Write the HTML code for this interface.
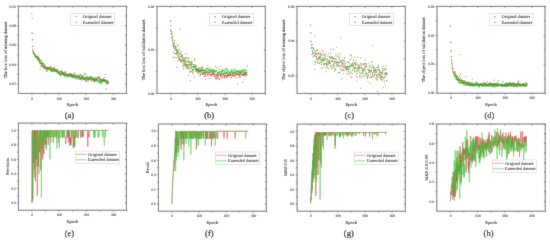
<!DOCTYPE html>
<html><head><meta charset="utf-8"><style>
html,body{margin:0;padding:0;background:#fff;}
svg{display:block;}
text{font-family:"Liberation Serif", "Times New Roman", serif;fill:#222;text-rendering:geometricPrecision;}
.tk{font-size:3.6px;fill:#333;stroke:#333;stroke-width:0.12px;}
.al{font-size:4.5px;fill:#1a1a1a;stroke:#1a1a1a;stroke-width:0.08px;}
.sl{font-size:8.6px;fill:#000;stroke:#000;stroke-width:0.15px;}
.lg{font-size:4.5px;fill:#1a1a1a;stroke:#1a1a1a;stroke-width:0.06px;}
</style></head><body>
<svg width="550" height="241" viewBox="0 0 550 241">
<defs><filter id="soft" filterUnits="userSpaceOnUse" x="0" y="0" width="550" height="241"><feConvolveMatrix order="3" kernelMatrix="0.01 0.08 0.01 0.08 0.64 0.08 0.01 0.08 0.01" edgeMode="duplicate"/></filter></defs>
<g filter="url(#soft)">
<rect width="550" height="241" fill="#fff"/>
<clipPath id="cpa"><rect x="18.40" y="6.30" width="108.00" height="87.10"/></clipPath>
<path d="M31.40 33.03h1.0M31.67 40.13h1.0M31.94 46.32h1.0M32.21 49.32h1.0M32.49 51.56h1.0M32.76 52.55h1.0M33.03 52.53h1.0M33.30 53.40h1.0M33.57 53.76h1.0M33.84 54.24h1.0M34.12 54.58h1.0M34.39 55.62h1.0M34.66 54.76h1.0M34.93 55.93h1.0M35.20 56.07h1.0M35.47 57.65h1.0M35.74 57.34h1.0M36.02 57.19h1.0M36.29 56.78h1.0M36.56 57.43h1.0M36.83 57.87h1.0M37.10 57.30h1.0M37.37 59.75h1.0M37.64 59.76h1.0M37.92 56.07h1.0M38.19 57.52h1.0M38.46 60.11h1.0M38.73 60.67h1.0M39.00 62.28h1.0M39.27 63.06h1.0M39.55 69.20h1.0M39.82 60.64h1.0M40.09 63.45h1.0M40.36 66.22h1.0M40.63 64.83h1.0M40.90 66.08h1.0M41.17 63.97h1.0M41.45 60.40h1.0M41.72 65.61h1.0M41.99 66.25h1.0M42.26 63.10h1.0M42.53 65.12h1.0M42.80 67.39h1.0M43.07 66.77h1.0M43.35 67.86h1.0M43.62 67.93h1.0M43.89 67.66h1.0M44.16 66.90h1.0M44.43 68.05h1.0M44.70 68.43h1.0M44.98 67.96h1.0M45.25 66.94h1.0M45.52 68.86h1.0M45.79 67.69h1.0M46.06 69.33h1.0M46.33 67.31h1.0M46.60 69.57h1.0M46.88 68.68h1.0M47.15 67.49h1.0M47.42 68.65h1.0M47.69 69.13h1.0M47.96 69.31h1.0M48.23 67.82h1.0M48.50 67.53h1.0M48.78 68.76h1.0M49.05 67.85h1.0M49.32 68.49h1.0M49.59 69.04h1.0M49.86 66.50h1.0M50.13 68.67h1.0M50.41 69.86h1.0M50.68 67.92h1.0M50.95 68.10h1.0M51.22 71.29h1.0M51.49 69.76h1.0M51.76 70.60h1.0M52.03 69.31h1.0M52.31 68.04h1.0M52.58 69.45h1.0M52.85 69.01h1.0M53.12 70.28h1.0M53.39 69.66h1.0M53.66 67.74h1.0M53.93 68.29h1.0M54.21 70.60h1.0M54.48 70.40h1.0M54.75 68.99h1.0M55.02 69.82h1.0M55.29 70.56h1.0M55.56 70.91h1.0M55.84 71.69h1.0M56.11 71.35h1.0M56.38 71.28h1.0M56.65 71.38h1.0M56.92 73.04h1.0M57.19 69.73h1.0M57.46 72.28h1.0M57.74 72.75h1.0M58.01 71.43h1.0M58.28 73.53h1.0M58.55 72.60h1.0M58.82 74.25h1.0M59.09 73.11h1.0M59.36 73.82h1.0M59.64 74.25h1.0M59.91 73.18h1.0M60.18 71.65h1.0M60.45 70.78h1.0M60.72 74.17h1.0M60.99 72.12h1.0M61.27 71.54h1.0M61.54 72.60h1.0M61.81 72.52h1.0M62.08 74.00h1.0M62.35 73.46h1.0M62.62 73.73h1.0M62.89 73.17h1.0M63.17 74.58h1.0M63.44 73.06h1.0M63.71 74.92h1.0M63.98 75.88h1.0M64.25 72.69h1.0M64.52 71.78h1.0M64.79 75.19h1.0M65.07 77.38h1.0M65.34 72.14h1.0M65.61 73.61h1.0M65.88 75.69h1.0M66.15 74.28h1.0M66.42 74.70h1.0M66.69 74.88h1.0M66.97 76.66h1.0M67.24 74.82h1.0M67.51 75.56h1.0M67.78 75.12h1.0M68.05 74.45h1.0M68.32 75.00h1.0M68.60 74.29h1.0M68.87 75.21h1.0M69.14 73.82h1.0M69.41 73.62h1.0M69.68 76.10h1.0M69.95 74.37h1.0M70.22 74.31h1.0M70.50 74.97h1.0M70.77 74.16h1.0M71.04 74.66h1.0M71.31 75.72h1.0M71.58 75.96h1.0M71.85 74.75h1.0M72.12 77.05h1.0M72.40 75.60h1.0M72.67 75.01h1.0M72.94 74.97h1.0M73.21 75.23h1.0M73.48 77.07h1.0M73.75 73.92h1.0M74.03 75.29h1.0M74.30 72.97h1.0M74.57 75.43h1.0M74.84 76.72h1.0M75.11 75.94h1.0M75.38 75.95h1.0M75.65 77.22h1.0M75.93 77.97h1.0M76.20 78.09h1.0M76.47 79.53h1.0M76.74 77.70h1.0M77.01 76.86h1.0M77.28 77.37h1.0M77.56 77.38h1.0M77.83 77.81h1.0M78.10 77.84h1.0M78.37 78.27h1.0M78.64 76.54h1.0M78.91 79.30h1.0M79.18 77.90h1.0M79.46 77.23h1.0M79.73 78.95h1.0M80.00 79.39h1.0M80.27 78.24h1.0M80.54 77.64h1.0M80.81 76.29h1.0M81.08 80.15h1.0M81.36 78.07h1.0M81.63 76.05h1.0M81.90 76.58h1.0M82.17 77.70h1.0M82.44 76.20h1.0M82.71 78.16h1.0M82.98 77.60h1.0M83.26 79.38h1.0M83.53 79.07h1.0M83.80 75.17h1.0M84.07 77.97h1.0M84.34 73.75h1.0M84.61 79.19h1.0M84.89 78.42h1.0M85.16 79.97h1.0M85.43 77.80h1.0M85.70 81.14h1.0M85.97 81.59h1.0M86.24 78.54h1.0M86.51 80.06h1.0M86.79 78.93h1.0M87.06 79.47h1.0M87.33 78.01h1.0M87.60 81.07h1.0M87.87 78.00h1.0M88.14 78.59h1.0M88.41 79.35h1.0M88.69 78.11h1.0M88.96 78.44h1.0M89.23 77.09h1.0M89.50 78.22h1.0M89.77 76.93h1.0M90.04 77.43h1.0M90.32 77.44h1.0M90.59 77.17h1.0M90.86 77.60h1.0M91.13 77.45h1.0M91.40 78.87h1.0M91.67 78.20h1.0M91.94 78.88h1.0M92.22 78.83h1.0M92.49 79.43h1.0M92.76 79.05h1.0M93.03 81.13h1.0M93.30 79.54h1.0M93.57 79.94h1.0M93.84 80.98h1.0M94.12 80.89h1.0M94.39 79.93h1.0M94.66 78.16h1.0M94.93 80.60h1.0M95.20 80.44h1.0M95.47 78.79h1.0M95.75 81.04h1.0M96.02 79.53h1.0M96.29 79.02h1.0M96.56 80.10h1.0M96.83 79.56h1.0M97.10 79.62h1.0M97.37 77.39h1.0M97.65 80.47h1.0M97.92 77.68h1.0M98.19 76.54h1.0M98.46 78.73h1.0M98.73 77.91h1.0M99.00 78.90h1.0M99.28 78.08h1.0M99.55 79.25h1.0M99.82 79.87h1.0M100.09 79.13h1.0M100.36 80.80h1.0M100.63 79.83h1.0M100.90 79.60h1.0M101.18 80.72h1.0M101.45 81.26h1.0M101.72 80.71h1.0M101.99 80.18h1.0M102.26 81.77h1.0M102.53 79.43h1.0M102.80 80.21h1.0M103.08 81.28h1.0M103.35 79.76h1.0M103.62 80.95h1.0M103.89 80.62h1.0M104.16 81.40h1.0M104.43 79.53h1.0M104.71 79.90h1.0M104.98 81.53h1.0M105.25 74.73h1.0M105.52 88.97h1.0M105.79 80.73h1.0M106.06 80.94h1.0M106.33 82.74h1.0M106.61 82.03h1.0M106.88 80.45h1.0M107.15 82.96h1.0M107.42 83.23h1.0M107.69 81.91h1.0M107.96 82.06h1.0" stroke="#d83840" stroke-width="1.0" fill="none" clip-path="url(#cpa)"/>
<path d="M31.40 13.72h1.0M31.67 18.67h1.0M31.94 33.29h1.0M32.21 39.45h1.0M32.49 46.35h1.0M32.76 50.75h1.0M33.03 51.66h1.0M33.30 53.40h1.0M33.57 53.80h1.0M33.84 53.91h1.0M34.12 55.86h1.0M34.39 55.19h1.0M34.66 55.50h1.0M34.93 55.34h1.0M35.20 56.57h1.0M35.47 56.27h1.0M35.74 57.01h1.0M36.02 56.24h1.0M36.29 57.14h1.0M36.56 56.59h1.0M36.83 58.51h1.0M37.10 58.42h1.0M37.37 58.99h1.0M37.64 59.47h1.0M37.92 58.64h1.0M38.19 60.48h1.0M38.46 61.79h1.0M38.73 58.82h1.0M39.00 58.97h1.0M39.27 59.40h1.0M39.55 61.69h1.0M39.82 61.45h1.0M40.09 62.68h1.0M40.36 62.82h1.0M40.63 62.83h1.0M40.90 63.55h1.0M41.17 63.06h1.0M41.45 64.16h1.0M41.72 62.64h1.0M41.99 63.37h1.0M42.26 64.05h1.0M42.53 65.51h1.0M42.80 63.52h1.0M43.07 63.51h1.0M43.35 64.31h1.0M43.62 65.90h1.0M43.89 65.28h1.0M44.16 67.09h1.0M44.43 64.90h1.0M44.70 67.99h1.0M44.98 68.44h1.0M45.25 66.86h1.0M45.52 68.61h1.0M45.79 71.37h1.0M46.06 69.06h1.0M46.33 69.89h1.0M46.60 71.01h1.0M46.88 69.10h1.0M47.15 68.50h1.0M47.42 67.97h1.0M47.69 69.11h1.0M47.96 68.33h1.0M48.23 68.31h1.0M48.50 68.39h1.0M48.78 69.12h1.0M49.05 67.83h1.0M49.32 67.67h1.0M49.59 67.17h1.0M49.86 70.52h1.0M50.13 69.79h1.0M50.41 71.15h1.0M50.68 69.96h1.0M50.95 69.41h1.0M51.22 70.49h1.0M51.49 70.07h1.0M51.76 69.14h1.0M52.03 69.52h1.0M52.31 71.84h1.0M52.58 70.74h1.0M52.85 70.89h1.0M53.12 70.41h1.0M53.39 70.14h1.0M53.66 71.49h1.0M53.93 70.64h1.0M54.21 70.04h1.0M54.48 70.49h1.0M54.75 69.76h1.0M55.02 70.63h1.0M55.29 71.42h1.0M55.56 69.81h1.0M55.84 71.77h1.0M56.11 70.10h1.0M56.38 70.94h1.0M56.65 69.23h1.0M56.92 70.98h1.0M57.19 71.46h1.0M57.46 71.21h1.0M57.74 71.23h1.0M58.01 71.57h1.0M58.28 71.83h1.0M58.55 71.60h1.0M58.82 73.08h1.0M59.09 73.94h1.0M59.36 74.57h1.0M59.64 74.45h1.0M59.91 75.95h1.0M60.18 74.04h1.0M60.45 73.23h1.0M60.72 75.02h1.0M60.99 72.46h1.0M61.27 74.08h1.0M61.54 72.48h1.0M61.81 73.66h1.0M62.08 71.88h1.0M62.35 74.47h1.0M62.62 73.78h1.0M62.89 73.24h1.0M63.17 75.52h1.0M63.44 74.79h1.0M63.71 74.27h1.0M63.98 73.58h1.0M64.25 74.20h1.0M64.52 73.97h1.0M64.79 75.96h1.0M65.07 75.32h1.0M65.34 74.35h1.0M65.61 74.72h1.0M65.88 74.95h1.0M66.15 74.40h1.0M66.42 75.10h1.0M66.69 75.54h1.0M66.97 76.17h1.0M67.24 76.65h1.0M67.51 74.83h1.0M67.78 75.93h1.0M68.05 75.09h1.0M68.32 77.18h1.0M68.60 75.40h1.0M68.87 75.85h1.0M69.14 74.66h1.0M69.41 74.78h1.0M69.68 75.89h1.0M69.95 75.19h1.0M70.22 75.86h1.0M70.50 74.36h1.0M70.77 76.31h1.0M71.04 75.15h1.0M71.31 77.45h1.0M71.58 75.90h1.0M71.85 77.17h1.0M72.12 75.25h1.0M72.40 77.43h1.0M72.67 75.95h1.0M72.94 75.82h1.0M73.21 76.97h1.0M73.48 76.84h1.0M73.75 77.49h1.0M74.03 78.06h1.0M74.30 78.13h1.0M74.57 77.55h1.0M74.84 76.41h1.0M75.11 76.67h1.0M75.38 76.63h1.0M75.65 74.94h1.0M75.93 77.01h1.0M76.20 75.96h1.0M76.47 75.80h1.0M76.74 76.72h1.0M77.01 76.48h1.0M77.28 76.18h1.0M77.56 75.31h1.0M77.83 76.60h1.0M78.10 76.89h1.0M78.37 76.12h1.0M78.64 77.88h1.0M78.91 77.53h1.0M79.18 75.51h1.0M79.46 77.23h1.0M79.73 74.52h1.0M80.00 78.07h1.0M80.27 77.87h1.0M80.54 75.04h1.0M80.81 75.62h1.0M81.08 77.67h1.0M81.36 77.54h1.0M81.63 79.14h1.0M81.90 78.66h1.0M82.17 77.99h1.0M82.44 78.86h1.0M82.71 76.88h1.0M82.98 78.93h1.0M83.26 79.49h1.0M83.53 78.69h1.0M83.80 78.23h1.0M84.07 79.17h1.0M84.34 80.16h1.0M84.61 78.55h1.0M84.89 77.28h1.0M85.16 79.18h1.0M85.43 73.97h1.0M85.70 78.09h1.0M85.97 77.15h1.0M86.24 78.44h1.0M86.51 76.11h1.0M86.79 79.17h1.0M87.06 78.60h1.0M87.33 77.21h1.0M87.60 77.22h1.0M87.87 78.69h1.0M88.14 80.02h1.0M88.41 79.06h1.0M88.69 79.00h1.0M88.96 78.73h1.0M89.23 79.48h1.0M89.50 79.13h1.0M89.77 79.01h1.0M90.04 77.98h1.0M90.32 79.79h1.0M90.59 80.03h1.0M90.86 76.39h1.0M91.13 81.03h1.0M91.40 79.85h1.0M91.67 78.93h1.0M91.94 77.80h1.0M92.22 79.88h1.0M92.49 79.80h1.0M92.76 78.88h1.0M93.03 77.95h1.0M93.30 80.35h1.0M93.57 78.98h1.0M93.84 79.07h1.0M94.12 81.74h1.0M94.39 81.11h1.0M94.66 80.09h1.0M94.93 78.31h1.0M95.20 79.70h1.0M95.47 77.29h1.0M95.75 79.25h1.0M96.02 78.66h1.0M96.29 78.42h1.0M96.56 78.45h1.0M96.83 80.50h1.0M97.10 80.51h1.0M97.37 80.93h1.0M97.65 81.82h1.0M97.92 80.76h1.0M98.19 80.72h1.0M98.46 80.52h1.0M98.73 81.88h1.0M99.00 82.92h1.0M99.28 82.31h1.0M99.55 83.04h1.0M99.82 81.63h1.0M100.09 82.22h1.0M100.36 81.95h1.0M100.63 81.47h1.0M100.90 83.83h1.0M101.18 82.84h1.0M101.45 81.34h1.0M101.72 81.11h1.0M101.99 81.45h1.0M102.26 80.12h1.0M102.53 81.44h1.0M102.80 78.32h1.0M103.08 80.49h1.0M103.35 79.88h1.0M103.62 80.27h1.0M103.89 79.58h1.0M104.16 77.53h1.0M104.43 79.98h1.0M104.71 80.32h1.0M104.98 80.81h1.0M105.25 81.35h1.0M105.52 82.82h1.0M105.79 82.56h1.0M106.06 82.00h1.0M106.33 83.90h1.0M106.61 82.08h1.0M106.88 83.92h1.0M107.15 83.24h1.0M107.42 81.64h1.0M107.69 83.19h1.0M107.96 83.00h1.0" stroke="#12c012" stroke-width="1.0" fill="none" clip-path="url(#cpa)"/>
<rect x="18.40" y="6.30" width="108.00" height="87.10" fill="none" stroke="#6e6e6e" stroke-width="1.0"/>
<path d="M31.90 93.40v1.4M31.90 6.30v1.4M45.48 93.40v1.2M45.48 6.30v1.2M59.05 93.40v1.4M59.05 6.30v1.4M72.62 93.40v1.2M72.62 6.30v1.2M86.20 93.40v1.4M86.20 6.30v1.4M99.78 93.40v1.2M99.78 6.30v1.2M113.35 93.40v1.4M113.35 6.30v1.4M126.93 93.40v1.2M126.93 6.30v1.2M18.40 83.72h-1.4M126.40 83.72h-1.4M18.40 64.37h-1.4M126.40 64.37h-1.4M18.40 45.01h-1.4M126.40 45.01h-1.4M18.40 25.66h-1.4M126.40 25.66h-1.4M18.40 6.30h-1.4M126.40 6.30h-1.4M18.40 74.04h-1.2M126.40 74.04h-1.2M18.40 54.69h-1.2M126.40 54.69h-1.2M18.40 35.33h-1.2M126.40 35.33h-1.2M18.40 15.98h-1.2M126.40 15.98h-1.2" stroke="#6e6e6e" stroke-width="0.9" fill="none"/>
<text x="32.20" y="99.50" class="tk" text-anchor="middle">0</text>
<text x="59.35" y="99.50" class="tk" text-anchor="middle">100</text>
<text x="86.50" y="99.50" class="tk" text-anchor="middle">200</text>
<text x="113.65" y="99.50" class="tk" text-anchor="middle">300</text>
<text x="15.70" y="84.92" class="tk" text-anchor="end">0.02</text>
<text x="15.70" y="65.57" class="tk" text-anchor="end">0.04</text>
<text x="15.70" y="46.21" class="tk" text-anchor="end">0.06</text>
<text x="15.70" y="26.86" class="tk" text-anchor="end">0.08</text>
<text x="15.70" y="7.50" class="tk" text-anchor="end">0.10</text>
<text x="72.40" y="106.20" class="al" text-anchor="middle">Epoch</text>
<text transform="translate(6.60 49.85) rotate(-90)" class="al" text-anchor="middle">The box loss of training dataset</text>
<text x="69.40" y="118.30" class="sl" text-anchor="middle">(a)</text>
<rect x="70.80" y="13.30" width="43.60" height="12.30" fill="#fff" stroke="#c8c8c8" stroke-width="0.5"/>
<circle cx="76.30" cy="16.60" r="0.75" fill="#f05060"/>
<circle cx="76.30" cy="22.30" r="0.75" fill="#30d050"/>
<text x="82.80" y="18.10" class="lg">Original dataset</text>
<text x="82.80" y="23.80" class="lg">Extended dataset</text>
<clipPath id="cpb"><rect x="157.00" y="6.35" width="108.30" height="87.05"/></clipPath>
<path d="M170.00 29.65h1.0M170.27 21.31h1.0M170.54 30.92h1.0M170.81 31.59h1.0M171.09 34.73h1.0M171.36 37.34h1.0M171.63 32.91h1.0M171.90 40.64h1.0M172.17 39.41h1.0M172.44 57.73h1.0M172.72 45.49h1.0M172.99 43.83h1.0M173.26 43.13h1.0M173.53 43.88h1.0M173.80 42.89h1.0M174.07 46.25h1.0M174.34 53.47h1.0M174.62 48.10h1.0M174.89 53.54h1.0M175.16 49.27h1.0M175.43 50.70h1.0M175.70 57.44h1.0M175.97 53.77h1.0M176.24 49.91h1.0M176.52 50.54h1.0M176.79 55.04h1.0M177.06 61.13h1.0M177.33 52.61h1.0M177.60 51.68h1.0M177.87 58.57h1.0M178.15 51.33h1.0M178.42 54.11h1.0M178.69 59.20h1.0M178.96 58.37h1.0M179.23 56.79h1.0M179.50 59.48h1.0M179.77 29.01h1.0M180.05 61.61h1.0M180.32 54.11h1.0M180.59 51.68h1.0M180.86 59.75h1.0M181.13 61.79h1.0M181.40 55.01h1.0M181.67 55.53h1.0M181.95 60.23h1.0M182.22 60.29h1.0M182.49 66.36h1.0M182.76 64.15h1.0M183.03 62.23h1.0M183.30 66.02h1.0M183.57 61.15h1.0M183.85 58.60h1.0M184.12 64.67h1.0M184.39 64.89h1.0M184.66 62.06h1.0M184.93 60.12h1.0M185.20 64.23h1.0M185.48 54.06h1.0M185.75 66.46h1.0M186.02 65.94h1.0M186.29 58.07h1.0M186.56 65.07h1.0M186.83 61.13h1.0M187.10 67.66h1.0M187.38 57.77h1.0M187.65 62.04h1.0M187.92 67.97h1.0M188.19 75.66h1.0M188.46 58.54h1.0M188.73 64.41h1.0M189.00 67.36h1.0M189.28 64.49h1.0M189.55 71.76h1.0M189.82 63.11h1.0M190.09 68.09h1.0M190.36 63.91h1.0M190.63 71.45h1.0M190.91 67.29h1.0M191.18 66.40h1.0M191.45 62.70h1.0M191.72 72.43h1.0M191.99 69.92h1.0M192.26 70.00h1.0M192.53 71.11h1.0M192.81 69.12h1.0M193.08 66.71h1.0M193.35 66.46h1.0M193.62 66.62h1.0M193.89 76.93h1.0M194.16 60.25h1.0M194.44 67.58h1.0M194.71 68.33h1.0M194.98 69.65h1.0M195.25 70.50h1.0M195.52 66.75h1.0M195.79 65.93h1.0M196.06 69.57h1.0M196.34 72.05h1.0M196.61 71.23h1.0M196.88 70.29h1.0M197.15 69.43h1.0M197.42 70.67h1.0M197.69 69.19h1.0M197.96 71.89h1.0M198.24 69.15h1.0M198.51 70.95h1.0M198.78 70.66h1.0M199.05 71.97h1.0M199.32 71.54h1.0M199.59 75.84h1.0M199.87 74.10h1.0M200.14 74.18h1.0M200.41 67.97h1.0M200.68 71.08h1.0M200.95 70.69h1.0M201.22 72.80h1.0M201.49 67.90h1.0M201.77 74.11h1.0M202.04 74.01h1.0M202.31 69.90h1.0M202.58 70.56h1.0M202.85 70.96h1.0M203.12 72.54h1.0M203.39 73.68h1.0M203.67 76.24h1.0M203.94 72.37h1.0M204.21 74.16h1.0M204.48 73.17h1.0M204.75 76.07h1.0M205.02 74.37h1.0M205.30 79.15h1.0M205.57 68.52h1.0M205.84 72.48h1.0M206.11 71.99h1.0M206.38 76.12h1.0M206.65 74.73h1.0M206.92 73.14h1.0M207.20 72.97h1.0M207.47 74.69h1.0M207.74 70.88h1.0M208.01 72.40h1.0M208.28 74.89h1.0M208.55 78.37h1.0M208.82 73.72h1.0M209.10 73.23h1.0M209.37 72.21h1.0M209.64 71.97h1.0M209.91 75.23h1.0M210.18 75.83h1.0M210.45 74.43h1.0M210.72 75.03h1.0M211.00 74.70h1.0M211.27 74.78h1.0M211.54 71.97h1.0M211.81 73.84h1.0M212.08 75.15h1.0M212.35 73.38h1.0M212.63 72.73h1.0M212.90 73.41h1.0M213.17 74.28h1.0M213.44 76.35h1.0M213.71 74.24h1.0M213.98 74.72h1.0M214.25 76.41h1.0M214.53 76.16h1.0M214.80 77.99h1.0M215.07 71.61h1.0M215.34 78.83h1.0M215.61 74.39h1.0M215.88 75.45h1.0M216.16 78.77h1.0M216.43 77.07h1.0M216.70 77.00h1.0M216.97 75.52h1.0M217.24 77.98h1.0M217.51 74.09h1.0M217.78 75.06h1.0M218.06 76.64h1.0M218.33 74.39h1.0M218.60 78.94h1.0M218.87 79.59h1.0M219.14 78.98h1.0M219.41 75.31h1.0M219.68 73.77h1.0M219.96 75.65h1.0M220.23 76.61h1.0M220.50 74.42h1.0M220.77 76.03h1.0M221.04 75.39h1.0M221.31 78.10h1.0M221.59 74.34h1.0M221.86 77.18h1.0M222.13 74.39h1.0M222.40 73.88h1.0M222.67 74.30h1.0M222.94 73.52h1.0M223.21 75.74h1.0M223.49 77.20h1.0M223.76 75.79h1.0M224.03 76.55h1.0M224.30 78.21h1.0M224.57 75.99h1.0M224.84 75.88h1.0M225.11 74.44h1.0M225.39 72.95h1.0M225.66 76.83h1.0M225.93 72.74h1.0M226.20 76.67h1.0M226.47 75.60h1.0M226.74 77.46h1.0M227.01 75.53h1.0M227.29 74.31h1.0M227.56 76.24h1.0M227.83 74.76h1.0M228.10 75.39h1.0M228.37 75.76h1.0M228.64 75.16h1.0M228.92 75.37h1.0M229.19 74.30h1.0M229.46 75.31h1.0M229.73 72.14h1.0M230.00 74.92h1.0M230.27 73.60h1.0M230.54 77.29h1.0M230.82 77.50h1.0M231.09 72.31h1.0M231.36 75.64h1.0M231.63 75.17h1.0M231.90 73.68h1.0M232.17 76.16h1.0M232.44 74.55h1.0M232.72 72.45h1.0M232.99 74.81h1.0M233.26 74.96h1.0M233.53 75.34h1.0M233.80 73.19h1.0M234.07 76.09h1.0M234.35 76.24h1.0M234.62 73.24h1.0M234.89 72.43h1.0M235.16 74.87h1.0M235.43 74.04h1.0M235.70 77.62h1.0M235.97 75.14h1.0M236.25 70.79h1.0M236.52 73.46h1.0M236.79 74.41h1.0M237.06 83.56h1.0M237.33 74.24h1.0M237.60 74.66h1.0M237.88 75.20h1.0M238.15 74.30h1.0M238.42 77.86h1.0M238.69 72.21h1.0M238.96 75.38h1.0M239.23 74.81h1.0M239.50 76.55h1.0M239.78 72.27h1.0M240.05 76.79h1.0M240.32 73.82h1.0M240.59 74.02h1.0M240.86 72.48h1.0M241.13 72.75h1.0M241.40 74.70h1.0M241.68 75.31h1.0M241.95 74.90h1.0M242.22 75.56h1.0M242.49 74.75h1.0M242.76 73.66h1.0M243.03 74.85h1.0M243.31 74.44h1.0M243.58 73.33h1.0M243.85 74.55h1.0M244.12 75.35h1.0M244.39 73.71h1.0M244.66 72.77h1.0M244.93 74.36h1.0M245.21 76.10h1.0M245.48 72.86h1.0M245.75 73.00h1.0M246.02 72.89h1.0M246.29 74.89h1.0M246.56 66.08h1.0" stroke="#d83840" stroke-width="1.0" fill="none" clip-path="url(#cpb)"/>
<path d="M170.00 21.02h1.0M170.27 25.67h1.0M170.54 33.61h1.0M170.81 34.64h1.0M171.09 31.30h1.0M171.36 37.96h1.0M171.63 37.77h1.0M171.90 42.04h1.0M172.17 36.21h1.0M172.44 44.72h1.0M172.72 46.91h1.0M172.99 51.78h1.0M173.26 47.26h1.0M173.53 48.66h1.0M173.80 40.93h1.0M174.07 57.07h1.0M174.34 40.39h1.0M174.62 53.47h1.0M174.89 46.01h1.0M175.16 46.28h1.0M175.43 47.70h1.0M175.70 48.14h1.0M175.97 52.87h1.0M176.24 51.29h1.0M176.52 67.28h1.0M176.79 45.14h1.0M177.06 53.00h1.0M177.33 49.82h1.0M177.60 57.00h1.0M177.87 45.68h1.0M178.15 53.21h1.0M178.42 55.82h1.0M178.69 49.38h1.0M178.96 59.66h1.0M179.23 56.79h1.0M179.50 60.47h1.0M179.77 60.64h1.0M180.05 53.28h1.0M180.32 54.37h1.0M180.59 57.09h1.0M180.86 61.21h1.0M181.13 61.97h1.0M181.40 56.18h1.0M181.67 56.94h1.0M181.95 56.56h1.0M182.22 57.76h1.0M182.49 58.08h1.0M182.76 60.25h1.0M183.03 69.00h1.0M183.30 59.25h1.0M183.57 60.32h1.0M183.85 63.44h1.0M184.12 58.21h1.0M184.39 60.70h1.0M184.66 62.40h1.0M184.93 65.54h1.0M185.20 57.76h1.0M185.48 68.27h1.0M185.75 61.90h1.0M186.02 64.12h1.0M186.29 66.92h1.0M186.56 66.37h1.0M186.83 67.99h1.0M187.10 64.89h1.0M187.38 64.38h1.0M187.65 65.76h1.0M187.92 61.34h1.0M188.19 69.20h1.0M188.46 62.56h1.0M188.73 61.16h1.0M189.00 72.36h1.0M189.28 65.32h1.0M189.55 62.17h1.0M189.82 80.72h1.0M190.09 65.23h1.0M190.36 69.60h1.0M190.63 63.98h1.0M190.91 64.75h1.0M191.18 61.80h1.0M191.45 61.37h1.0M191.72 64.19h1.0M191.99 66.82h1.0M192.26 69.30h1.0M192.53 73.69h1.0M192.81 64.69h1.0M193.08 70.06h1.0M193.35 66.09h1.0M193.62 67.34h1.0M193.89 58.94h1.0M194.16 64.46h1.0M194.44 66.26h1.0M194.71 65.46h1.0M194.98 68.23h1.0M195.25 66.82h1.0M195.52 71.06h1.0M195.79 68.84h1.0M196.06 69.45h1.0M196.34 70.93h1.0M196.61 69.79h1.0M196.88 68.73h1.0M197.15 68.84h1.0M197.42 68.86h1.0M197.69 73.99h1.0M197.96 72.74h1.0M198.24 69.96h1.0M198.51 70.81h1.0M198.78 68.48h1.0M199.05 70.44h1.0M199.32 67.08h1.0M199.59 72.08h1.0M199.87 69.91h1.0M200.14 70.10h1.0M200.41 70.86h1.0M200.68 69.79h1.0M200.95 69.37h1.0M201.22 71.96h1.0M201.49 70.38h1.0M201.77 68.26h1.0M202.04 70.68h1.0M202.31 66.90h1.0M202.58 72.87h1.0M202.85 69.66h1.0M203.12 70.18h1.0M203.39 73.98h1.0M203.67 73.80h1.0M203.94 70.24h1.0M204.21 71.15h1.0M204.48 71.99h1.0M204.75 73.04h1.0M205.02 69.88h1.0M205.30 70.36h1.0M205.57 72.29h1.0M205.84 71.34h1.0M206.11 71.50h1.0M206.38 71.27h1.0M206.65 68.24h1.0M206.92 68.74h1.0M207.20 65.66h1.0M207.47 69.83h1.0M207.74 72.62h1.0M208.01 68.39h1.0M208.28 72.50h1.0M208.55 72.14h1.0M208.82 70.35h1.0M209.10 70.48h1.0M209.37 70.68h1.0M209.64 69.09h1.0M209.91 70.14h1.0M210.18 70.59h1.0M210.45 71.76h1.0M210.72 74.16h1.0M211.00 69.52h1.0M211.27 72.26h1.0M211.54 69.55h1.0M211.81 70.64h1.0M212.08 71.61h1.0M212.35 70.98h1.0M212.63 70.84h1.0M212.90 71.57h1.0M213.17 70.21h1.0M213.44 70.08h1.0M213.71 70.89h1.0M213.98 72.92h1.0M214.25 71.15h1.0M214.53 74.60h1.0M214.80 71.78h1.0M215.07 66.42h1.0M215.34 70.76h1.0M215.61 74.33h1.0M215.88 71.53h1.0M216.16 70.79h1.0M216.43 67.86h1.0M216.70 73.78h1.0M216.97 73.25h1.0M217.24 72.70h1.0M217.51 72.30h1.0M217.78 74.01h1.0M218.06 72.98h1.0M218.33 69.55h1.0M218.60 72.91h1.0M218.87 71.92h1.0M219.14 71.46h1.0M219.41 72.93h1.0M219.68 71.71h1.0M219.96 66.79h1.0M220.23 74.27h1.0M220.50 73.42h1.0M220.77 71.50h1.0M221.04 71.10h1.0M221.31 72.10h1.0M221.59 69.61h1.0M221.86 72.25h1.0M222.13 71.37h1.0M222.40 70.31h1.0M222.67 70.25h1.0M222.94 70.67h1.0M223.21 73.62h1.0M223.49 74.00h1.0M223.76 72.64h1.0M224.03 71.75h1.0M224.30 70.40h1.0M224.57 73.02h1.0M224.84 74.49h1.0M225.11 69.23h1.0M225.39 73.80h1.0M225.66 68.35h1.0M225.93 71.34h1.0M226.20 72.53h1.0M226.47 69.70h1.0M226.74 69.46h1.0M227.01 72.24h1.0M227.29 73.37h1.0M227.56 71.19h1.0M227.83 74.14h1.0M228.10 70.72h1.0M228.37 74.82h1.0M228.64 72.19h1.0M228.92 72.35h1.0M229.19 72.93h1.0M229.46 73.20h1.0M229.73 74.85h1.0M230.00 75.40h1.0M230.27 74.01h1.0M230.54 71.13h1.0M230.82 69.88h1.0M231.09 70.53h1.0M231.36 71.72h1.0M231.63 71.51h1.0M231.90 71.58h1.0M232.17 71.63h1.0M232.44 72.38h1.0M232.72 69.41h1.0M232.99 69.90h1.0M233.26 73.28h1.0M233.53 72.80h1.0M233.80 70.59h1.0M234.07 73.46h1.0M234.35 70.31h1.0M234.62 70.96h1.0M234.89 68.44h1.0M235.16 72.63h1.0M235.43 71.28h1.0M235.70 72.97h1.0M235.97 74.07h1.0M236.25 71.43h1.0M236.52 71.53h1.0M236.79 73.15h1.0M237.06 71.02h1.0M237.33 71.04h1.0M237.60 71.38h1.0M237.88 72.53h1.0M238.15 74.92h1.0M238.42 74.29h1.0M238.69 71.20h1.0M238.96 73.30h1.0M239.23 70.34h1.0M239.50 72.31h1.0M239.78 71.95h1.0M240.05 74.09h1.0M240.32 72.36h1.0M240.59 70.74h1.0M240.86 72.34h1.0M241.13 72.00h1.0M241.40 70.99h1.0M241.68 71.04h1.0M241.95 70.05h1.0M242.22 82.19h1.0M242.49 71.73h1.0M242.76 73.03h1.0M243.03 69.77h1.0M243.31 69.90h1.0M243.58 71.34h1.0M243.85 71.36h1.0M244.12 72.82h1.0M244.39 70.08h1.0M244.66 72.44h1.0M244.93 73.93h1.0M245.21 70.26h1.0M245.48 73.04h1.0M245.75 70.22h1.0M246.02 72.20h1.0M246.29 72.24h1.0M246.56 74.32h1.0" stroke="#12c012" stroke-width="1.0" fill="none" clip-path="url(#cpb)"/>
<rect x="157.00" y="6.35" width="108.30" height="87.05" fill="none" stroke="#6e6e6e" stroke-width="1.0"/>
<path d="M170.50 93.40v1.4M170.50 6.35v1.4M184.07 93.40v1.2M184.07 6.35v1.2M197.65 93.40v1.4M197.65 6.35v1.4M211.22 93.40v1.2M211.22 6.35v1.2M224.80 93.40v1.4M224.80 6.35v1.4M238.38 93.40v1.2M238.38 6.35v1.2M251.95 93.40v1.4M251.95 6.35v1.4M265.52 93.40v1.2M265.52 6.35v1.2M157.00 93.40h-1.4M265.30 93.40h-1.4M157.00 49.88h-1.4M265.30 49.88h-1.4M157.00 6.35h-1.4M265.30 6.35h-1.4M157.00 71.64h-1.2M265.30 71.64h-1.2M157.00 28.11h-1.2M265.30 28.11h-1.2" stroke="#6e6e6e" stroke-width="0.9" fill="none"/>
<text x="170.80" y="99.50" class="tk" text-anchor="middle">0</text>
<text x="197.95" y="99.50" class="tk" text-anchor="middle">100</text>
<text x="225.10" y="99.50" class="tk" text-anchor="middle">200</text>
<text x="252.25" y="99.50" class="tk" text-anchor="middle">300</text>
<text x="154.30" y="94.60" class="tk" text-anchor="end">0.00</text>
<text x="154.30" y="51.08" class="tk" text-anchor="end">0.02</text>
<text x="154.30" y="7.55" class="tk" text-anchor="end">0.04</text>
<text x="211.15" y="106.20" class="al" text-anchor="middle">Epoch</text>
<text transform="translate(145.00 49.88) rotate(-90)" class="al" text-anchor="middle">The box loss of validation dataset</text>
<text x="209.20" y="118.30" class="sl" text-anchor="middle">(b)</text>
<rect x="209.70" y="13.35" width="43.60" height="12.30" fill="#fff" stroke="#c8c8c8" stroke-width="0.5"/>
<circle cx="215.20" cy="16.65" r="0.75" fill="#f05060"/>
<circle cx="215.20" cy="22.35" r="0.75" fill="#30d050"/>
<text x="221.70" y="18.15" class="lg">Original dataset</text>
<text x="221.70" y="23.85" class="lg">Extended dataset</text>
<clipPath id="cpc"><rect x="297.00" y="6.35" width="108.30" height="87.05"/></clipPath>
<path d="M310.05 25.34h0.9M310.32 32.60h0.9M310.59 41.90h0.9M310.86 45.21h0.9M311.14 47.92h0.9M311.41 48.22h0.9M311.68 47.61h0.9M311.95 44.53h0.9M312.22 52.97h0.9M312.49 57.11h0.9M312.76 53.51h0.9M313.04 48.07h0.9M313.31 49.43h0.9M313.58 61.25h0.9M313.85 55.68h0.9M314.12 36.30h0.9M314.39 55.01h0.9M314.67 51.38h0.9M314.94 53.86h0.9M315.21 54.62h0.9M315.48 53.76h0.9M315.75 59.46h0.9M316.02 56.46h0.9M316.29 50.81h0.9M316.57 61.93h0.9M316.84 61.20h0.9M317.11 50.45h0.9M317.38 54.99h0.9M317.65 53.63h0.9M317.92 57.32h0.9M318.19 52.54h0.9M318.47 58.43h0.9M318.74 58.31h0.9M319.01 57.27h0.9M319.28 54.13h0.9M319.55 57.13h0.9M319.82 54.20h0.9M320.10 53.13h0.9M320.37 60.18h0.9M320.64 54.40h0.9M320.91 64.53h0.9M321.18 62.63h0.9M321.45 50.78h0.9M321.72 60.86h0.9M322.00 54.91h0.9M322.27 60.00h0.9M322.54 60.14h0.9M322.81 51.29h0.9M323.08 59.11h0.9M323.35 57.42h0.9M323.62 64.56h0.9M323.90 55.22h0.9M324.17 63.76h0.9M324.44 55.77h0.9M324.71 59.25h0.9M324.98 57.10h0.9M325.25 67.27h0.9M325.53 63.49h0.9M325.80 71.78h0.9M326.07 64.00h0.9M326.34 64.99h0.9M326.61 65.06h0.9M326.88 58.79h0.9M327.15 61.25h0.9M327.43 67.59h0.9M327.70 60.00h0.9M327.97 62.67h0.9M328.24 61.84h0.9M328.51 68.73h0.9M328.78 60.52h0.9M329.06 61.55h0.9M329.33 63.38h0.9M329.60 62.86h0.9M329.87 52.99h0.9M330.14 66.51h0.9M330.41 56.92h0.9M330.68 49.49h0.9M330.96 57.13h0.9M331.23 67.09h0.9M331.50 61.32h0.9M331.77 58.70h0.9M332.04 58.04h0.9M332.31 64.96h0.9M332.58 58.53h0.9M332.86 49.25h0.9M333.13 66.01h0.9M333.40 58.11h0.9M333.67 62.03h0.9M333.94 63.48h0.9M334.21 61.62h0.9M334.49 63.41h0.9M334.76 69.61h0.9M335.03 61.51h0.9M335.30 58.31h0.9M335.57 55.84h0.9M335.84 63.09h0.9M336.11 62.50h0.9M336.39 65.29h0.9M336.66 62.15h0.9M336.93 62.15h0.9M337.20 56.39h0.9M337.47 62.10h0.9M337.74 65.16h0.9M338.01 62.85h0.9M338.29 65.04h0.9M338.56 73.03h0.9M338.83 66.84h0.9M339.10 57.86h0.9M339.37 72.49h0.9M339.64 66.46h0.9M339.92 60.86h0.9M340.19 69.03h0.9M340.46 65.16h0.9M340.73 62.41h0.9M341.00 62.37h0.9M341.27 60.83h0.9M341.54 65.45h0.9M341.82 69.98h0.9M342.09 63.89h0.9M342.36 69.98h0.9M342.63 73.65h0.9M342.90 60.09h0.9M343.17 66.61h0.9M343.44 64.16h0.9M343.72 60.89h0.9M343.99 61.08h0.9M344.26 65.56h0.9M344.53 67.58h0.9M344.80 63.37h0.9M345.07 65.99h0.9M345.35 68.97h0.9M345.62 67.13h0.9M345.89 69.69h0.9M346.16 67.94h0.9M346.43 68.09h0.9M346.70 74.02h0.9M346.97 68.77h0.9M347.25 66.64h0.9M347.52 69.23h0.9M347.79 62.10h0.9M348.06 62.47h0.9M348.33 69.71h0.9M348.60 69.04h0.9M348.87 73.12h0.9M349.15 66.39h0.9M349.42 59.95h0.9M349.69 74.99h0.9M349.96 71.27h0.9M350.23 54.85h0.9M350.50 72.59h0.9M350.78 66.72h0.9M351.05 58.64h0.9M351.32 64.81h0.9M351.59 64.46h0.9M351.86 73.74h0.9M352.13 63.30h0.9M352.40 65.71h0.9M352.68 65.65h0.9M352.95 65.24h0.9M353.22 62.92h0.9M353.49 67.95h0.9M353.76 71.76h0.9M354.03 69.81h0.9M354.30 63.03h0.9M354.58 62.09h0.9M354.85 67.71h0.9M355.12 64.12h0.9M355.39 64.50h0.9M355.66 59.92h0.9M355.93 75.93h0.9M356.20 71.43h0.9M356.48 63.15h0.9M356.75 77.46h0.9M357.02 73.42h0.9M357.29 57.04h0.9M357.56 65.18h0.9M357.83 65.93h0.9M358.11 70.53h0.9M358.38 66.38h0.9M358.65 66.74h0.9M358.92 67.54h0.9M359.19 75.99h0.9M359.46 77.38h0.9M359.73 65.61h0.9M360.01 57.77h0.9M360.28 97.62h0.9M360.55 63.78h0.9M360.82 65.67h0.9M361.09 68.44h0.9M361.36 70.50h0.9M361.63 73.00h0.9M361.91 70.29h0.9M362.18 64.82h0.9M362.45 70.98h0.9M362.72 69.95h0.9M362.99 77.20h0.9M363.26 68.97h0.9M363.54 63.25h0.9M363.81 64.63h0.9M364.08 75.70h0.9M364.35 67.04h0.9M364.62 60.25h0.9M364.89 67.05h0.9M365.16 69.70h0.9M365.44 75.03h0.9M365.71 65.43h0.9M365.98 72.92h0.9M366.25 73.58h0.9M366.52 67.10h0.9M366.79 69.44h0.9M367.06 78.15h0.9M367.34 78.03h0.9M367.61 74.32h0.9M367.88 72.11h0.9M368.15 75.75h0.9M368.42 70.22h0.9M368.69 70.51h0.9M368.97 67.24h0.9M369.24 71.15h0.9M369.51 70.86h0.9M369.78 83.51h0.9M370.05 70.56h0.9M370.32 77.09h0.9M370.59 77.38h0.9M370.87 70.81h0.9M371.14 76.84h0.9M371.41 62.19h0.9M371.68 72.25h0.9M371.95 75.67h0.9M372.22 45.58h0.9M372.50 66.93h0.9M372.77 76.74h0.9M373.04 71.03h0.9M373.31 67.39h0.9M373.58 70.65h0.9M373.85 69.97h0.9M374.12 75.61h0.9M374.40 74.48h0.9M374.67 71.32h0.9M374.94 69.69h0.9M375.21 72.45h0.9M375.48 78.58h0.9M375.75 74.35h0.9M376.02 75.69h0.9M376.30 72.28h0.9M376.57 67.33h0.9M376.84 69.95h0.9M377.11 76.01h0.9M377.38 74.35h0.9M377.65 69.30h0.9M377.93 66.22h0.9M378.20 73.89h0.9M378.47 69.74h0.9M378.74 69.68h0.9M379.01 72.16h0.9M379.28 74.92h0.9M379.55 75.03h0.9M379.83 78.04h0.9M380.10 77.95h0.9M380.37 79.80h0.9M380.64 77.55h0.9M380.91 72.56h0.9M381.18 73.48h0.9M381.45 76.29h0.9M381.73 72.79h0.9M382.00 76.61h0.9M382.27 79.31h0.9M382.54 70.74h0.9M382.81 66.52h0.9M383.08 87.48h0.9M383.36 74.46h0.9M383.63 77.54h0.9M383.90 68.60h0.9M384.17 82.13h0.9M384.44 77.79h0.9M384.71 74.02h0.9M384.98 73.07h0.9M385.26 75.15h0.9M385.53 72.86h0.9M385.80 73.50h0.9M386.07 69.84h0.9M386.34 80.36h0.9M386.61 74.67h0.9" stroke="#d83840" stroke-width="0.9" fill="none" clip-path="url(#cpc)"/>
<path d="M310.05 25.71h0.9M310.32 33.53h0.9M310.59 40.98h0.9M310.86 44.93h0.9M311.14 47.77h0.9M311.41 54.76h0.9M311.68 50.43h0.9M311.95 53.82h0.9M312.22 51.58h0.9M312.49 53.46h0.9M312.76 53.16h0.9M313.04 48.71h0.9M313.31 49.92h0.9M313.58 55.88h0.9M313.85 52.23h0.9M314.12 69.34h0.9M314.39 61.62h0.9M314.67 64.41h0.9M314.94 56.52h0.9M315.21 62.85h0.9M315.48 52.91h0.9M315.75 53.43h0.9M316.02 57.52h0.9M316.29 58.53h0.9M316.57 50.39h0.9M316.84 49.94h0.9M317.11 59.25h0.9M317.38 54.02h0.9M317.65 63.26h0.9M317.92 59.81h0.9M318.19 59.56h0.9M318.47 59.26h0.9M318.74 62.41h0.9M319.01 56.92h0.9M319.28 63.51h0.9M319.55 56.55h0.9M319.82 58.01h0.9M320.10 56.10h0.9M320.37 61.82h0.9M320.64 59.44h0.9M320.91 55.58h0.9M321.18 68.28h0.9M321.45 57.97h0.9M321.72 59.15h0.9M322.00 61.49h0.9M322.27 67.54h0.9M322.54 59.29h0.9M322.81 63.13h0.9M323.08 60.57h0.9M323.35 53.79h0.9M323.62 63.81h0.9M323.90 64.91h0.9M324.17 59.46h0.9M324.44 60.54h0.9M324.71 54.10h0.9M324.98 54.10h0.9M325.25 59.17h0.9M325.53 63.74h0.9M325.80 59.01h0.9M326.07 62.46h0.9M326.34 65.53h0.9M326.61 61.79h0.9M326.88 63.99h0.9M327.15 67.92h0.9M327.43 56.17h0.9M327.70 65.02h0.9M327.97 53.55h0.9M328.24 63.83h0.9M328.51 62.92h0.9M328.78 56.14h0.9M329.06 57.48h0.9M329.33 62.04h0.9M329.60 57.89h0.9M329.87 62.93h0.9M330.14 58.57h0.9M330.41 65.04h0.9M330.68 58.14h0.9M330.96 61.43h0.9M331.23 61.11h0.9M331.50 68.48h0.9M331.77 56.39h0.9M332.04 61.22h0.9M332.31 68.31h0.9M332.58 60.28h0.9M332.86 57.79h0.9M333.13 64.56h0.9M333.40 62.10h0.9M333.67 67.12h0.9M333.94 59.46h0.9M334.21 65.68h0.9M334.49 70.98h0.9M334.76 68.27h0.9M335.03 58.92h0.9M335.30 70.12h0.9M335.57 54.01h0.9M335.84 47.35h0.9M336.11 59.85h0.9M336.39 64.80h0.9M336.66 62.77h0.9M336.93 66.19h0.9M337.20 66.50h0.9M337.47 65.79h0.9M337.74 63.34h0.9M338.01 72.51h0.9M338.29 54.84h0.9M338.56 57.03h0.9M338.83 62.50h0.9M339.10 59.27h0.9M339.37 53.62h0.9M339.64 61.43h0.9M339.92 61.70h0.9M340.19 38.11h0.9M340.46 68.86h0.9M340.73 70.83h0.9M341.00 78.74h0.9M341.27 62.96h0.9M341.54 65.89h0.9M341.82 60.34h0.9M342.09 66.22h0.9M342.36 62.39h0.9M342.63 67.20h0.9M342.90 63.93h0.9M343.17 70.02h0.9M343.44 69.15h0.9M343.72 71.00h0.9M343.99 58.53h0.9M344.26 57.63h0.9M344.53 67.45h0.9M344.80 63.17h0.9M345.07 67.50h0.9M345.35 67.10h0.9M345.62 66.62h0.9M345.89 69.91h0.9M346.16 68.36h0.9M346.43 68.03h0.9M346.70 62.05h0.9M346.97 73.61h0.9M347.25 66.62h0.9M347.52 70.98h0.9M347.79 67.58h0.9M348.06 71.77h0.9M348.33 66.90h0.9M348.60 67.22h0.9M348.87 66.91h0.9M349.15 63.22h0.9M349.42 63.86h0.9M349.69 65.77h0.9M349.96 65.95h0.9M350.23 55.69h0.9M350.50 76.91h0.9M350.78 55.79h0.9M351.05 65.28h0.9M351.32 77.42h0.9M351.59 63.80h0.9M351.86 70.11h0.9M352.13 69.69h0.9M352.40 65.91h0.9M352.68 60.58h0.9M352.95 60.07h0.9M353.22 66.91h0.9M353.49 68.84h0.9M353.76 57.54h0.9M354.03 67.74h0.9M354.30 64.23h0.9M354.58 71.09h0.9M354.85 67.97h0.9M355.12 63.70h0.9M355.39 65.41h0.9M355.66 67.52h0.9M355.93 73.29h0.9M356.20 80.82h0.9M356.48 69.04h0.9M356.75 68.05h0.9M357.02 70.65h0.9M357.29 67.76h0.9M357.56 70.72h0.9M357.83 69.70h0.9M358.11 68.06h0.9M358.38 64.61h0.9M358.65 68.86h0.9M358.92 72.17h0.9M359.19 68.58h0.9M359.46 74.95h0.9M359.73 72.48h0.9M360.01 67.81h0.9M360.28 88.19h0.9M360.55 63.58h0.9M360.82 73.78h0.9M361.09 76.90h0.9M361.36 67.71h0.9M361.63 68.48h0.9M361.91 73.16h0.9M362.18 75.43h0.9M362.45 71.19h0.9M362.72 70.41h0.9M362.99 73.49h0.9M363.26 73.20h0.9M363.54 64.34h0.9M363.81 68.93h0.9M364.08 69.78h0.9M364.35 63.34h0.9M364.62 71.80h0.9M364.89 66.87h0.9M365.16 73.49h0.9M365.44 63.76h0.9M365.71 66.40h0.9M365.98 64.09h0.9M366.25 76.25h0.9M366.52 76.30h0.9M366.79 77.25h0.9M367.06 77.38h0.9M367.34 74.96h0.9M367.61 81.69h0.9M367.88 63.69h0.9M368.15 72.71h0.9M368.42 69.16h0.9M368.69 70.04h0.9M368.97 66.14h0.9M369.24 77.42h0.9M369.51 72.44h0.9M369.78 65.29h0.9M370.05 74.16h0.9M370.32 71.64h0.9M370.59 67.41h0.9M370.87 70.69h0.9M371.14 68.61h0.9M371.41 61.94h0.9M371.68 65.35h0.9M371.95 74.30h0.9M372.22 73.60h0.9M372.50 73.30h0.9M372.77 66.96h0.9M373.04 69.54h0.9M373.31 72.51h0.9M373.58 75.33h0.9M373.85 68.65h0.9M374.12 67.76h0.9M374.40 77.50h0.9M374.67 72.85h0.9M374.94 70.94h0.9M375.21 69.43h0.9M375.48 69.86h0.9M375.75 79.79h0.9M376.02 77.15h0.9M376.30 71.11h0.9M376.57 67.50h0.9M376.84 91.49h0.9M377.11 80.05h0.9M377.38 78.51h0.9M377.65 76.98h0.9M377.93 65.04h0.9M378.20 67.73h0.9M378.47 75.96h0.9M378.74 72.29h0.9M379.01 74.73h0.9M379.28 71.36h0.9M379.55 70.85h0.9M379.83 76.24h0.9M380.10 72.11h0.9M380.37 73.92h0.9M380.64 75.12h0.9M380.91 76.59h0.9M381.18 79.17h0.9M381.45 80.14h0.9M381.73 68.13h0.9M382.00 73.01h0.9M382.27 71.38h0.9M382.54 77.58h0.9M382.81 69.60h0.9M383.08 77.75h0.9M383.36 77.46h0.9M383.63 80.76h0.9M383.90 70.17h0.9M384.17 73.54h0.9M384.44 69.77h0.9M384.71 76.31h0.9M384.98 85.09h0.9M385.26 67.95h0.9M385.53 65.56h0.9M385.80 74.00h0.9M386.07 72.42h0.9M386.34 81.36h0.9M386.61 74.19h0.9" stroke="#12c012" stroke-width="0.9" fill="none" clip-path="url(#cpc)"/>
<rect x="297.00" y="6.35" width="108.30" height="87.05" fill="none" stroke="#6e6e6e" stroke-width="1.0"/>
<path d="M310.50 93.40v1.4M310.50 6.35v1.4M324.07 93.40v1.2M324.07 6.35v1.2M337.65 93.40v1.4M337.65 6.35v1.4M351.23 93.40v1.2M351.23 6.35v1.2M364.80 93.40v1.4M364.80 6.35v1.4M378.38 93.40v1.2M378.38 6.35v1.2M391.95 93.40v1.4M391.95 6.35v1.4M405.52 93.40v1.2M405.52 6.35v1.2M297.00 75.99h-1.4M405.30 75.99h-1.4M297.00 41.17h-1.4M405.30 41.17h-1.4M297.00 6.35h-1.4M405.30 6.35h-1.4M297.00 58.58h-1.2M405.30 58.58h-1.2M297.00 23.76h-1.2M405.30 23.76h-1.2" stroke="#6e6e6e" stroke-width="0.9" fill="none"/>
<text x="310.80" y="99.50" class="tk" text-anchor="middle">0</text>
<text x="337.95" y="99.50" class="tk" text-anchor="middle">100</text>
<text x="365.10" y="99.50" class="tk" text-anchor="middle">200</text>
<text x="392.25" y="99.50" class="tk" text-anchor="middle">300</text>
<text x="294.30" y="77.19" class="tk" text-anchor="end">0.02</text>
<text x="294.30" y="42.37" class="tk" text-anchor="end">0.04</text>
<text x="294.30" y="7.55" class="tk" text-anchor="end">0.06</text>
<text x="351.15" y="106.20" class="al" text-anchor="middle">Epoch</text>
<text transform="translate(285.00 49.88) rotate(-90)" class="al" text-anchor="middle">The object loss of training dataset</text>
<text x="349.40" y="118.30" class="sl" text-anchor="middle">(c)</text>
<rect x="349.70" y="13.35" width="43.60" height="12.30" fill="#fff" stroke="#c8c8c8" stroke-width="0.5"/>
<circle cx="355.20" cy="16.65" r="0.75" fill="#f05060"/>
<circle cx="355.20" cy="22.35" r="0.75" fill="#30d050"/>
<text x="361.70" y="18.15" class="lg">Original dataset</text>
<text x="361.70" y="23.85" class="lg">Extended dataset</text>
<clipPath id="cpd"><rect x="437.00" y="6.35" width="108.00" height="86.85"/></clipPath>
<path d="M450.00 26.00h1.0M450.27 42.60h1.0M450.54 51.86h1.0M450.81 56.42h1.0M451.09 60.64h1.0M451.36 62.57h1.0M451.63 66.06h1.0M451.90 68.86h1.0M452.17 67.84h1.0M452.44 68.84h1.0M452.71 71.78h1.0M452.99 72.35h1.0M453.26 72.74h1.0M453.53 71.91h1.0M453.80 74.10h1.0M454.07 75.99h1.0M454.34 73.67h1.0M454.62 72.10h1.0M454.89 74.02h1.0M455.16 75.32h1.0M455.43 74.89h1.0M455.70 77.10h1.0M455.97 76.49h1.0M456.24 79.07h1.0M456.52 79.27h1.0M456.79 79.15h1.0M457.06 76.28h1.0M457.33 79.40h1.0M457.60 80.43h1.0M457.87 80.76h1.0M458.14 78.67h1.0M458.42 80.18h1.0M458.69 79.64h1.0M458.96 79.97h1.0M459.23 82.48h1.0M459.50 80.20h1.0M459.77 81.29h1.0M460.05 74.00h1.0M460.32 80.82h1.0M460.59 81.51h1.0M460.86 81.88h1.0M461.13 81.92h1.0M461.40 80.50h1.0M461.67 82.15h1.0M461.95 83.75h1.0M462.22 80.46h1.0M462.49 83.36h1.0M462.76 82.61h1.0M463.03 81.84h1.0M463.30 84.94h1.0M463.57 80.64h1.0M463.85 81.54h1.0M464.12 82.78h1.0M464.39 83.73h1.0M464.66 82.99h1.0M464.93 84.04h1.0M465.20 83.27h1.0M465.48 81.60h1.0M465.75 84.97h1.0M466.02 82.77h1.0M466.29 83.74h1.0M466.56 83.09h1.0M466.83 83.75h1.0M467.10 82.45h1.0M467.38 83.12h1.0M467.65 83.26h1.0M467.92 84.71h1.0M468.19 84.99h1.0M468.46 82.59h1.0M468.73 83.16h1.0M469.00 84.62h1.0M469.28 82.11h1.0M469.55 83.64h1.0M469.82 84.03h1.0M470.09 85.36h1.0M470.36 84.87h1.0M470.63 83.96h1.0M470.91 83.97h1.0M471.18 84.13h1.0M471.45 85.79h1.0M471.72 84.06h1.0M471.99 84.22h1.0M472.26 84.86h1.0M472.53 84.48h1.0M472.81 84.45h1.0M473.08 83.68h1.0M473.35 84.71h1.0M473.62 84.37h1.0M473.89 85.87h1.0M474.16 85.45h1.0M474.44 84.89h1.0M474.71 85.56h1.0M474.98 84.69h1.0M475.25 82.63h1.0M475.52 85.00h1.0M475.79 85.53h1.0M476.06 82.10h1.0M476.34 85.31h1.0M476.61 83.48h1.0M476.88 83.17h1.0M477.15 84.73h1.0M477.42 84.19h1.0M477.69 85.15h1.0M477.96 87.02h1.0M478.24 84.25h1.0M478.51 84.44h1.0M478.78 85.18h1.0M479.05 85.44h1.0M479.32 84.84h1.0M479.59 84.81h1.0M479.87 85.63h1.0M480.14 85.47h1.0M480.41 84.07h1.0M480.68 84.93h1.0M480.95 85.03h1.0M481.22 84.05h1.0M481.49 85.23h1.0M481.77 84.23h1.0M482.04 85.87h1.0M482.31 85.17h1.0M482.58 85.08h1.0M482.85 84.47h1.0M483.12 84.89h1.0M483.39 83.20h1.0M483.67 83.98h1.0M483.94 85.33h1.0M484.21 83.08h1.0M484.48 85.76h1.0M484.75 83.43h1.0M485.02 85.68h1.0M485.30 84.24h1.0M485.57 85.70h1.0M485.84 85.12h1.0M486.11 83.62h1.0M486.38 86.12h1.0M486.65 81.76h1.0M486.92 84.94h1.0M487.20 84.38h1.0M487.47 84.86h1.0M487.74 84.12h1.0M488.01 85.99h1.0M488.28 84.51h1.0M488.55 84.95h1.0M488.82 84.29h1.0M489.10 84.44h1.0M489.37 83.85h1.0M489.64 86.13h1.0M489.91 84.86h1.0M490.18 82.83h1.0M490.45 85.01h1.0M490.73 84.38h1.0M491.00 84.71h1.0M491.27 83.74h1.0M491.54 85.01h1.0M491.81 84.66h1.0M492.08 84.73h1.0M492.35 83.76h1.0M492.63 84.27h1.0M492.90 86.49h1.0M493.17 84.40h1.0M493.44 84.05h1.0M493.71 85.30h1.0M493.98 86.27h1.0M494.25 83.69h1.0M494.53 84.81h1.0M494.80 84.43h1.0M495.07 83.42h1.0M495.34 85.66h1.0M495.61 84.98h1.0M495.88 85.06h1.0M496.15 84.32h1.0M496.43 85.41h1.0M496.70 84.51h1.0M496.97 84.87h1.0M497.24 84.00h1.0M497.51 83.91h1.0M497.78 86.20h1.0M498.06 84.54h1.0M498.33 85.26h1.0M498.60 84.97h1.0M498.87 84.60h1.0M499.14 84.54h1.0M499.41 85.57h1.0M499.68 84.32h1.0M499.96 84.86h1.0M500.23 85.02h1.0M500.50 86.06h1.0M500.77 85.61h1.0M501.04 85.34h1.0M501.31 84.49h1.0M501.58 83.76h1.0M501.86 85.85h1.0M502.13 85.87h1.0M502.40 84.87h1.0M502.67 85.49h1.0M502.94 85.70h1.0M503.21 85.75h1.0M503.49 85.83h1.0M503.76 84.59h1.0M504.03 86.36h1.0M504.30 83.88h1.0M504.57 85.78h1.0M504.84 85.44h1.0M505.11 85.79h1.0M505.39 86.69h1.0M505.66 86.34h1.0M505.93 83.97h1.0M506.20 83.48h1.0M506.47 83.16h1.0M506.74 84.09h1.0M507.01 84.99h1.0M507.29 85.76h1.0M507.56 83.52h1.0M507.83 83.10h1.0M508.10 85.23h1.0M508.37 85.04h1.0M508.64 84.78h1.0M508.92 85.03h1.0M509.19 84.23h1.0M509.46 83.64h1.0M509.73 84.85h1.0M510.00 84.13h1.0M510.27 83.52h1.0M510.54 85.46h1.0M510.82 84.94h1.0M511.09 84.09h1.0M511.36 84.11h1.0M511.63 84.41h1.0M511.90 84.10h1.0M512.17 83.01h1.0M512.45 85.18h1.0M512.72 84.30h1.0M512.99 85.32h1.0M513.26 85.31h1.0M513.53 86.82h1.0M513.80 83.75h1.0M514.07 85.80h1.0M514.35 84.92h1.0M514.62 84.99h1.0M514.89 83.70h1.0M515.16 84.59h1.0M515.43 85.67h1.0M515.70 84.93h1.0M515.97 85.07h1.0M516.25 84.35h1.0M516.52 86.04h1.0M516.79 84.98h1.0M517.06 83.02h1.0M517.33 84.38h1.0M517.60 83.23h1.0M517.88 82.07h1.0M518.15 84.52h1.0M518.42 86.20h1.0M518.69 85.04h1.0M518.96 83.94h1.0M519.23 84.15h1.0M519.50 86.02h1.0M519.78 85.14h1.0M520.05 85.04h1.0M520.32 84.95h1.0M520.59 85.03h1.0M520.86 85.72h1.0M521.13 85.50h1.0M521.40 85.19h1.0M521.68 84.06h1.0M521.95 85.46h1.0M522.22 84.38h1.0M522.49 85.98h1.0M522.76 83.86h1.0M523.03 84.88h1.0M523.31 84.98h1.0M523.58 83.81h1.0M523.85 86.55h1.0M524.12 86.31h1.0M524.39 83.96h1.0M524.66 85.69h1.0M524.93 85.34h1.0M525.21 82.65h1.0M525.48 85.23h1.0M525.75 84.94h1.0M526.02 85.07h1.0M526.29 84.03h1.0M526.56 84.76h1.0" stroke="#d83840" stroke-width="1.0" fill="none" clip-path="url(#cpd)"/>
<path d="M450.00 25.65h1.0M450.27 42.03h1.0M450.54 50.30h1.0M450.81 56.77h1.0M451.09 59.15h1.0M451.36 63.32h1.0M451.63 64.98h1.0M451.90 68.32h1.0M452.17 69.78h1.0M452.44 71.79h1.0M452.71 72.23h1.0M452.99 71.70h1.0M453.26 73.92h1.0M453.53 75.71h1.0M453.80 73.13h1.0M454.07 75.86h1.0M454.34 75.65h1.0M454.62 78.67h1.0M454.89 75.61h1.0M455.16 76.78h1.0M455.43 78.12h1.0M455.70 78.33h1.0M455.97 75.96h1.0M456.24 77.40h1.0M456.52 78.88h1.0M456.79 79.07h1.0M457.06 79.56h1.0M457.33 80.44h1.0M457.60 78.03h1.0M457.87 82.69h1.0M458.14 79.56h1.0M458.42 77.85h1.0M458.69 80.81h1.0M458.96 76.31h1.0M459.23 54.60h1.0M459.50 83.19h1.0M459.77 83.28h1.0M460.05 80.36h1.0M460.32 78.51h1.0M460.59 80.14h1.0M460.86 83.17h1.0M461.13 80.87h1.0M461.40 80.16h1.0M461.67 80.48h1.0M461.95 82.16h1.0M462.22 82.23h1.0M462.49 83.37h1.0M462.76 83.61h1.0M463.03 81.51h1.0M463.30 82.50h1.0M463.57 81.51h1.0M463.85 82.97h1.0M464.12 81.71h1.0M464.39 81.77h1.0M464.66 85.52h1.0M464.93 83.34h1.0M465.20 84.04h1.0M465.48 76.59h1.0M465.75 84.27h1.0M466.02 83.36h1.0M466.29 83.59h1.0M466.56 82.80h1.0M466.83 84.75h1.0M467.10 83.33h1.0M467.38 85.51h1.0M467.65 83.41h1.0M467.92 83.45h1.0M468.19 83.43h1.0M468.46 84.52h1.0M468.73 83.48h1.0M469.00 85.33h1.0M469.28 83.50h1.0M469.55 84.36h1.0M469.82 85.97h1.0M470.09 83.95h1.0M470.36 84.72h1.0M470.63 85.73h1.0M470.91 84.82h1.0M471.18 83.78h1.0M471.45 82.53h1.0M471.72 79.06h1.0M471.99 84.88h1.0M472.26 85.68h1.0M472.53 84.16h1.0M472.81 86.27h1.0M473.08 85.15h1.0M473.35 84.77h1.0M473.62 83.96h1.0M473.89 85.15h1.0M474.16 84.42h1.0M474.44 84.71h1.0M474.71 83.49h1.0M474.98 84.56h1.0M475.25 85.14h1.0M475.52 83.87h1.0M475.79 85.07h1.0M476.06 85.60h1.0M476.34 84.72h1.0M476.61 84.44h1.0M476.88 84.44h1.0M477.15 85.85h1.0M477.42 83.62h1.0M477.69 84.73h1.0M477.96 84.62h1.0M478.24 85.13h1.0M478.51 84.94h1.0M478.78 84.00h1.0M479.05 86.84h1.0M479.32 85.16h1.0M479.59 83.79h1.0M479.87 84.20h1.0M480.14 85.09h1.0M480.41 85.55h1.0M480.68 83.79h1.0M480.95 83.40h1.0M481.22 83.76h1.0M481.49 84.29h1.0M481.77 85.77h1.0M482.04 86.53h1.0M482.31 84.92h1.0M482.58 84.72h1.0M482.85 86.14h1.0M483.12 82.59h1.0M483.39 85.25h1.0M483.67 85.21h1.0M483.94 85.91h1.0M484.21 85.27h1.0M484.48 84.40h1.0M484.75 85.55h1.0M485.02 83.99h1.0M485.30 85.73h1.0M485.57 84.39h1.0M485.84 84.18h1.0M486.11 84.67h1.0M486.38 85.04h1.0M486.65 85.64h1.0M486.92 84.81h1.0M487.20 85.66h1.0M487.47 85.88h1.0M487.74 84.76h1.0M488.01 84.12h1.0M488.28 85.83h1.0M488.55 85.25h1.0M488.82 83.10h1.0M489.10 84.11h1.0M489.37 85.13h1.0M489.64 83.77h1.0M489.91 84.39h1.0M490.18 83.46h1.0M490.45 85.36h1.0M490.73 85.22h1.0M491.00 85.16h1.0M491.27 86.30h1.0M491.54 84.21h1.0M491.81 84.74h1.0M492.08 86.82h1.0M492.35 83.83h1.0M492.63 85.66h1.0M492.90 83.82h1.0M493.17 85.21h1.0M493.44 80.24h1.0M493.71 85.24h1.0M493.98 84.31h1.0M494.25 87.15h1.0M494.53 84.51h1.0M494.80 84.81h1.0M495.07 84.32h1.0M495.34 83.79h1.0M495.61 86.00h1.0M495.88 86.46h1.0M496.15 83.29h1.0M496.43 85.30h1.0M496.70 84.87h1.0M496.97 85.80h1.0M497.24 82.16h1.0M497.51 84.89h1.0M497.78 85.23h1.0M498.06 80.53h1.0M498.33 85.38h1.0M498.60 84.89h1.0M498.87 84.97h1.0M499.14 85.09h1.0M499.41 85.52h1.0M499.68 85.41h1.0M499.96 84.07h1.0M500.23 84.89h1.0M500.50 84.84h1.0M500.77 85.03h1.0M501.04 84.47h1.0M501.31 85.87h1.0M501.58 86.17h1.0M501.86 86.37h1.0M502.13 86.72h1.0M502.40 81.64h1.0M502.67 84.59h1.0M502.94 84.45h1.0M503.21 84.64h1.0M503.49 85.50h1.0M503.76 84.88h1.0M504.03 85.89h1.0M504.30 86.49h1.0M504.57 84.61h1.0M504.84 85.88h1.0M505.11 84.65h1.0M505.39 83.86h1.0M505.66 83.86h1.0M505.93 84.71h1.0M506.20 83.29h1.0M506.47 85.45h1.0M506.74 86.36h1.0M507.01 83.95h1.0M507.29 84.70h1.0M507.56 86.39h1.0M507.83 85.31h1.0M508.10 85.18h1.0M508.37 84.76h1.0M508.64 85.92h1.0M508.92 85.30h1.0M509.19 84.02h1.0M509.46 82.81h1.0M509.73 82.59h1.0M510.00 85.59h1.0M510.27 84.76h1.0M510.54 86.30h1.0M510.82 85.46h1.0M511.09 83.86h1.0M511.36 85.26h1.0M511.63 86.07h1.0M511.90 84.19h1.0M512.17 84.54h1.0M512.45 86.57h1.0M512.72 83.43h1.0M512.99 84.02h1.0M513.26 82.64h1.0M513.53 84.55h1.0M513.80 83.97h1.0M514.07 83.69h1.0M514.35 85.42h1.0M514.62 86.09h1.0M514.89 85.74h1.0M515.16 85.37h1.0M515.43 86.35h1.0M515.70 84.30h1.0M515.97 84.25h1.0M516.25 86.83h1.0M516.52 83.89h1.0M516.79 84.88h1.0M517.06 84.93h1.0M517.33 86.29h1.0M517.60 83.28h1.0M517.88 84.38h1.0M518.15 80.99h1.0M518.42 85.30h1.0M518.69 85.40h1.0M518.96 85.59h1.0M519.23 84.17h1.0M519.50 85.21h1.0M519.78 84.20h1.0M520.05 84.57h1.0M520.32 84.93h1.0M520.59 86.16h1.0M520.86 84.60h1.0M521.13 85.16h1.0M521.40 84.24h1.0M521.68 84.48h1.0M521.95 84.37h1.0M522.22 84.85h1.0M522.49 85.69h1.0M522.76 84.00h1.0M523.03 85.64h1.0M523.31 84.14h1.0M523.58 85.29h1.0M523.85 84.50h1.0M524.12 84.72h1.0M524.39 84.64h1.0M524.66 85.98h1.0M524.93 85.22h1.0M525.21 85.95h1.0M525.48 84.65h1.0M525.75 84.77h1.0M526.02 86.43h1.0M526.29 83.50h1.0M526.56 84.19h1.0" stroke="#12c012" stroke-width="1.0" fill="none" clip-path="url(#cpd)"/>
<rect x="437.00" y="6.35" width="108.00" height="86.85" fill="none" stroke="#6e6e6e" stroke-width="1.0"/>
<path d="M450.50 93.20v1.4M450.50 6.35v1.4M464.07 93.20v1.2M464.07 6.35v1.2M477.65 93.20v1.4M477.65 6.35v1.4M491.23 93.20v1.2M491.23 6.35v1.2M504.80 93.20v1.4M504.80 6.35v1.4M518.38 93.20v1.2M518.38 6.35v1.2M531.95 93.20v1.4M531.95 6.35v1.4M545.52 93.20v1.2M545.52 6.35v1.2M437.00 93.20h-1.4M545.00 93.20h-1.4M437.00 64.25h-1.4M545.00 64.25h-1.4M437.00 35.30h-1.4M545.00 35.30h-1.4M437.00 6.35h-1.4M545.00 6.35h-1.4M437.00 78.72h-1.2M545.00 78.72h-1.2M437.00 49.77h-1.2M545.00 49.77h-1.2M437.00 20.82h-1.2M545.00 20.82h-1.2" stroke="#6e6e6e" stroke-width="0.9" fill="none"/>
<text x="450.80" y="99.30" class="tk" text-anchor="middle">0</text>
<text x="477.95" y="99.30" class="tk" text-anchor="middle">100</text>
<text x="505.10" y="99.30" class="tk" text-anchor="middle">200</text>
<text x="532.25" y="99.30" class="tk" text-anchor="middle">300</text>
<text x="434.30" y="94.40" class="tk" text-anchor="end">0.00</text>
<text x="434.30" y="65.45" class="tk" text-anchor="end">0.01</text>
<text x="434.30" y="36.50" class="tk" text-anchor="end">0.02</text>
<text x="434.30" y="7.55" class="tk" text-anchor="end">0.03</text>
<text x="491.00" y="106.00" class="al" text-anchor="middle">Epoch</text>
<text transform="translate(424.80 49.77) rotate(-90)" class="al" text-anchor="middle">The object loss of validation dataset</text>
<text x="489.40" y="118.30" class="sl" text-anchor="middle">(d)</text>
<rect x="489.40" y="13.35" width="43.60" height="12.30" fill="#fff" stroke="#c8c8c8" stroke-width="0.5"/>
<circle cx="494.90" cy="16.65" r="0.75" fill="#f05060"/>
<circle cx="494.90" cy="22.35" r="0.75" fill="#30d050"/>
<text x="501.40" y="18.15" class="lg">Original dataset</text>
<text x="501.40" y="23.85" class="lg">Extended dataset</text>
<clipPath id="cpe"><rect x="18.40" y="123.10" width="108.00" height="87.10"/></clipPath>
<polyline points="31.90,202.94 32.17,130.36 32.44,201.49 32.71,130.36 32.99,137.55 33.26,143.63 33.53,163.02 33.80,137.49 34.07,130.36 34.34,170.28 34.62,130.36 34.89,144.57 35.16,130.36 35.43,181.17 35.70,147.50 35.97,130.36 36.24,159.39 36.52,137.62 36.79,137.44 37.06,130.36 37.33,195.68 37.60,130.36 37.87,130.36 38.14,130.36 38.42,166.65 38.69,137.22 38.96,137.50 39.23,137.79 39.50,152.13 39.77,130.36 40.05,130.36 40.32,130.36 40.59,130.36 40.86,170.28 41.13,130.36 41.40,130.36 41.67,136.55 41.95,148.50 42.22,137.09 42.49,136.58 42.76,159.39 43.03,130.36 43.30,130.36 43.57,137.16 43.85,154.31 44.12,130.36 44.39,130.36 44.66,130.36 44.93,130.36 45.20,144.88 45.48,130.36 45.75,130.36 46.02,130.36 46.29,147.62 46.56,137.24 46.83,130.36 47.10,137.44 47.38,137.12 47.65,130.36 47.92,130.36 48.19,144.88 48.46,130.36 48.73,130.36 49.00,130.36 49.28,130.36 49.55,130.36 49.82,130.36 50.09,137.82 50.36,130.36 50.63,130.36 50.91,130.36 51.18,130.36 51.45,130.36 51.72,130.36 51.99,130.36 52.26,130.36 52.53,130.36 52.81,130.36 53.08,137.70 53.35,142.70 53.62,137.96 53.89,130.36 54.16,130.36 54.43,130.36 54.71,130.36 54.98,130.36 55.25,130.36 55.52,130.36 55.79,130.36 56.06,137.86 56.34,130.36 56.61,130.36 56.88,130.36 57.15,130.36 57.42,130.36 57.69,130.36 57.96,130.36 58.24,137.50 58.51,137.14 58.78,137.84 59.05,130.36 59.32,130.36 59.59,130.36 59.86,130.36 60.14,130.36 60.41,130.36 60.68,130.36 60.95,130.36 61.22,130.36 61.49,130.36 61.77,130.36 62.04,130.36 62.31,130.36 62.58,137.07 62.85,130.36 63.12,130.36 63.39,130.36 63.67,130.36 63.94,130.36 64.21,130.36 64.48,136.55 64.75,136.87 65.02,136.77 65.29,137.68 65.57,136.83 65.84,143.69 66.11,136.96 66.38,136.91 66.65,130.36 66.92,130.36 67.19,130.36 67.47,130.36 67.74,137.45 68.01,130.36 68.28,136.78 68.55,130.36 68.82,142.54 69.10,130.36 69.37,137.81 69.64,137.13 69.91,145.88 70.18,137.84 70.45,144.51 70.72,137.57 71.00,145.06 71.27,130.36 71.54,137.13 71.81,137.93 72.08,137.60 72.35,130.36 72.62,130.36 72.90,130.36 73.17,130.36 73.44,147.57 73.71,143.65 73.98,136.84 74.25,136.73 74.53,137.26 74.80,146.39 75.07,130.36 75.34,130.36 75.61,137.80 75.88,137.85 76.15,136.96 76.43,130.36 76.70,130.36 76.97,130.36 77.24,137.53 77.51,137.06 77.78,136.97 78.06,136.80 78.33,130.36 78.60,130.36 78.87,130.36 79.14,130.36 79.41,130.36 79.68,130.36 79.96,130.36 80.23,130.36 80.50,130.36 80.77,130.36 81.04,137.54 81.31,130.36 81.58,130.36 81.86,130.36 82.13,130.36 82.40,136.70 82.67,130.36 82.94,130.36 83.21,136.64 83.48,137.19 83.76,130.36 84.03,130.36 84.30,130.36 84.57,130.36 84.84,130.36 85.11,130.36 85.39,130.36 85.66,130.36 85.93,130.36 86.20,130.36 86.47,130.36 86.74,130.36 87.01,130.36 87.29,130.36 87.56,137.21 87.83,146.62 88.10,130.36 88.37,136.57 88.64,137.32 88.91,136.67 89.19,137.17 89.46,136.65 89.73,130.36 90.00,130.36 90.27,130.36 90.54,130.36 90.82,130.36 91.09,130.36 91.36,130.36 91.63,130.36 91.90,130.36 92.17,130.36 92.44,130.36 92.72,130.36 92.99,130.36 93.26,130.36 93.53,130.36 93.80,130.36 94.07,130.36 94.34,130.36 94.62,130.36 94.89,130.36 95.16,130.36 95.43,130.36 95.70,130.36 95.97,130.36 96.25,130.36 96.52,130.36 96.79,130.36 97.06,130.36 97.33,130.36 97.60,130.36 97.87,130.36 98.15,130.36 98.42,130.36 98.69,130.36 98.96,130.36 99.23,130.36 99.50,130.36 99.78,130.36 100.05,130.36 100.32,130.36 100.59,130.36 100.86,130.36 101.13,130.36 101.40,130.36 101.68,130.36 101.95,130.36 102.22,130.36 102.49,130.36 102.76,130.36 103.03,130.36 103.30,130.36 103.58,130.36 103.85,130.36 104.12,130.36 104.39,130.36 104.66,130.36 104.93,130.36 105.21,130.36 105.48,130.36 105.75,130.36 106.02,130.36 106.29,130.36 106.56,130.36 106.83,130.36 107.11,130.36 107.38,130.36 107.65,130.36 107.92,130.36 108.19,130.36" fill="none" stroke="#e83a48" stroke-width="0.7" stroke-opacity="0.85" stroke-linejoin="round" clip-path="url(#cpe)"/>
<polyline points="31.90,202.94 32.17,181.17 32.44,130.36 32.71,130.36 32.99,199.31 33.26,130.36 33.53,130.36 33.80,152.13 34.07,137.84 34.34,177.54 34.62,137.00 34.89,147.34 35.16,159.39 35.43,130.36 35.70,130.36 35.97,130.36 36.24,130.36 36.52,130.36 36.79,166.65 37.06,130.36 37.33,130.36 37.60,130.36 37.87,130.36 38.14,130.36 38.42,130.36 38.69,130.36 38.96,173.91 39.23,130.36 39.50,137.68 39.77,142.76 40.05,130.36 40.32,152.13 40.59,130.36 40.86,130.36 41.13,130.36 41.40,197.86 41.67,130.36 41.95,130.36 42.22,130.36 42.49,130.36 42.76,137.66 43.03,130.36 43.30,148.50 43.57,136.90 43.85,130.36 44.12,142.22 44.39,130.36 44.66,144.88 44.93,136.89 45.20,137.11 45.48,130.36 45.75,130.36 46.02,130.36 46.29,149.96 46.56,137.02 46.83,136.73 47.10,130.36 47.38,136.60 47.65,130.36 47.92,136.62 48.19,137.26 48.46,130.36 48.73,137.25 49.00,130.36 49.28,130.36 49.55,130.36 49.82,130.36 50.09,159.39 50.36,130.36 50.63,130.36 50.91,142.52 51.18,130.36 51.45,130.36 51.72,137.11 51.99,130.36 52.26,130.36 52.53,130.36 52.81,137.35 53.08,137.46 53.35,136.80 53.62,136.90 53.89,136.59 54.16,130.36 54.43,136.79 54.71,130.36 54.98,130.36 55.25,130.36 55.52,130.36 55.79,130.36 56.06,136.98 56.34,130.36 56.61,137.58 56.88,148.50 57.15,130.36 57.42,130.36 57.69,130.36 57.96,136.94 58.24,143.10 58.51,136.57 58.78,130.36 59.05,130.36 59.32,147.72 59.59,136.75 59.86,130.36 60.14,130.36 60.41,130.36 60.68,137.10 60.95,137.90 61.22,130.36 61.49,130.36 61.77,130.36 62.04,137.49 62.31,136.55 62.58,137.53 62.85,130.36 63.12,130.36 63.39,137.33 63.67,137.92 63.94,130.36 64.21,130.36 64.48,136.62 64.75,130.36 65.02,130.36 65.29,130.36 65.57,130.36 65.84,130.36 66.11,130.36 66.38,130.36 66.65,130.36 66.92,130.36 67.19,130.36 67.47,130.36 67.74,137.35 68.01,137.69 68.28,130.36 68.55,130.36 68.82,137.67 69.10,137.40 69.37,130.36 69.64,136.81 69.91,130.36 70.18,130.36 70.45,130.36 70.72,130.36 71.00,130.36 71.27,130.36 71.54,130.36 71.81,130.36 72.08,130.36 72.35,130.36 72.62,130.36 72.90,130.36 73.17,147.78 73.44,130.36 73.71,130.36 73.98,130.36 74.25,130.36 74.53,147.59 74.80,137.33 75.07,130.36 75.34,137.26 75.61,130.36 75.88,130.36 76.15,130.36 76.43,130.36 76.70,130.36 76.97,130.36 77.24,130.36 77.51,130.36 77.78,130.36 78.06,130.36 78.33,137.94 78.60,130.36 78.87,130.36 79.14,130.36 79.41,130.36 79.68,130.36 79.96,130.36 80.23,130.36 80.50,137.88 80.77,137.19 81.04,137.02 81.31,130.36 81.58,130.36 81.86,130.36 82.13,130.36 82.40,130.36 82.67,130.36 82.94,130.36 83.21,130.36 83.48,130.36 83.76,130.36 84.03,130.36 84.30,130.36 84.57,130.36 84.84,130.36 85.11,130.36 85.39,130.36 85.66,130.36 85.93,130.36 86.20,130.36 86.47,130.36 86.74,130.36 87.01,130.36 87.29,130.36 87.56,130.36 87.83,130.36 88.10,130.36 88.37,130.36 88.64,130.36 88.91,130.36 89.19,130.36 89.46,130.36 89.73,130.36 90.00,130.36 90.27,130.36 90.54,130.36 90.82,130.36 91.09,130.36 91.36,130.36 91.63,130.36 91.90,130.36 92.17,130.36 92.44,130.36 92.72,130.36 92.99,130.36 93.26,130.36 93.53,130.36 93.80,137.39 94.07,130.36 94.34,137.89 94.62,130.36 94.89,137.94 95.16,136.71 95.43,130.36 95.70,130.36 95.97,130.36 96.25,130.36 96.52,130.36 96.79,130.36 97.06,130.36 97.33,130.36 97.60,130.36 97.87,130.36 98.15,137.88 98.42,130.36 98.69,137.44 98.96,136.88 99.23,130.36 99.50,130.36 99.78,130.36 100.05,130.36 100.32,130.36 100.59,130.36 100.86,130.36 101.13,130.36 101.40,130.36 101.68,130.36 101.95,130.36 102.22,130.36 102.49,137.49 102.76,137.10 103.03,130.36 103.30,130.36 103.58,130.36 103.85,137.39 104.12,142.37 104.39,146.02 104.66,137.31 104.93,130.36 105.21,130.36 105.48,137.26 105.75,130.36 106.02,130.36 106.29,130.36 106.56,130.36 106.83,130.36 107.11,130.36 107.38,130.36 107.65,130.36 107.92,130.36 108.19,130.36" fill="none" stroke="#2cc82c" stroke-width="0.7" stroke-opacity="0.72" stroke-linejoin="round" clip-path="url(#cpe)"/>
<rect x="18.40" y="123.10" width="108.00" height="87.10" fill="none" stroke="#6e6e6e" stroke-width="1.0"/>
<path d="M31.90 210.20v1.4M31.90 123.10v1.4M45.48 210.20v1.2M45.48 123.10v1.2M59.05 210.20v1.4M59.05 123.10v1.4M72.62 210.20v1.2M72.62 123.10v1.2M86.20 210.20v1.4M86.20 123.10v1.4M99.78 210.20v1.2M99.78 123.10v1.2M113.35 210.20v1.4M113.35 123.10v1.4M126.93 210.20v1.2M126.93 123.10v1.2M18.40 202.94h-1.4M126.40 202.94h-1.4M18.40 188.42h-1.4M126.40 188.42h-1.4M18.40 173.91h-1.4M126.40 173.91h-1.4M18.40 159.39h-1.4M126.40 159.39h-1.4M18.40 144.88h-1.4M126.40 144.88h-1.4M18.40 130.36h-1.4M126.40 130.36h-1.4M18.40 195.68h-1.2M126.40 195.68h-1.2M18.40 181.17h-1.2M126.40 181.17h-1.2M18.40 166.65h-1.2M126.40 166.65h-1.2M18.40 152.13h-1.2M126.40 152.13h-1.2M18.40 137.62h-1.2M126.40 137.62h-1.2" stroke="#6e6e6e" stroke-width="0.9" fill="none"/>
<text x="32.20" y="216.30" class="tk" text-anchor="middle">0</text>
<text x="59.35" y="216.30" class="tk" text-anchor="middle">100</text>
<text x="86.50" y="216.30" class="tk" text-anchor="middle">200</text>
<text x="113.65" y="216.30" class="tk" text-anchor="middle">300</text>
<text x="15.70" y="204.14" class="tk" text-anchor="end">0.0</text>
<text x="15.70" y="189.62" class="tk" text-anchor="end">0.2</text>
<text x="15.70" y="175.11" class="tk" text-anchor="end">0.4</text>
<text x="15.70" y="160.59" class="tk" text-anchor="end">0.6</text>
<text x="15.70" y="146.07" class="tk" text-anchor="end">0.8</text>
<text x="15.70" y="131.56" class="tk" text-anchor="end">1.0</text>
<text x="72.40" y="223.00" class="al" text-anchor="middle">Epoch</text>
<text transform="translate(8.60 166.65) rotate(-90)" class="al" text-anchor="middle">Precision</text>
<text x="69.40" y="235.80" class="sl" text-anchor="middle">(e)</text>
<rect x="75.80" y="151.10" width="43.60" height="12.30" fill="#fff" stroke="#c8c8c8" stroke-width="0.5"/>
<path d="M75.80 154.30h11" stroke="#f07878" stroke-width="0.7"/>
<path d="M75.80 159.80h11" stroke="#a8eaa8" stroke-width="1.5"/>
<text x="88.10" y="155.80" class="lg">Original dataset</text>
<text x="88.10" y="161.30" class="lg">Extended dataset</text>
<clipPath id="cpf"><rect x="158.40" y="124.00" width="107.90" height="87.20"/></clipPath>
<polyline points="171.90,203.93 172.17,195.21 172.44,187.95 172.71,182.13 172.99,176.32 173.26,173.41 173.53,167.60 173.80,171.23 174.07,160.33 174.34,163.97 174.62,153.07 174.89,156.70 175.16,138.53 175.43,149.43 175.70,131.27 175.97,131.27 176.24,153.07 176.52,131.27 176.79,131.27 177.06,131.27 177.33,145.80 177.60,138.71 177.87,138.31 178.14,138.69 178.42,138.69 178.69,151.61 178.96,138.18 179.23,138.28 179.50,138.53 179.77,138.33 180.05,131.27 180.32,131.27 180.59,138.20 180.86,131.27 181.13,149.43 181.40,147.00 181.67,131.27 181.95,131.27 182.22,138.59 182.49,138.31 182.76,131.27 183.03,138.82 183.30,131.27 183.57,131.27 183.85,145.62 184.12,138.35 184.39,131.27 184.66,131.27 184.93,131.27 185.20,131.27 185.47,131.27 185.75,138.55 186.02,138.41 186.29,131.27 186.56,138.36 186.83,138.31 187.10,131.27 187.38,131.27 187.65,131.27 187.92,131.27 188.19,131.27 188.46,131.27 188.73,131.27 189.00,131.27 189.28,131.27 189.55,131.27 189.82,131.27 190.09,138.63 190.36,138.47 190.63,131.27 190.91,131.27 191.18,131.27 191.45,138.38 191.72,131.27 191.99,131.27 192.26,131.27 192.53,131.27 192.81,131.27 193.08,138.59 193.35,131.27 193.62,131.27 193.89,131.27 194.16,131.27 194.43,131.27 194.71,131.27 194.98,138.31 195.25,131.27 195.52,131.27 195.79,131.27 196.06,131.27 196.34,149.43 196.61,131.27 196.88,131.27 197.15,131.27 197.42,131.27 197.69,138.53 197.96,138.54 198.24,138.50 198.51,138.77 198.78,138.31 199.05,131.27 199.32,138.29 199.59,138.70 199.86,138.44 200.14,138.24 200.41,131.27 200.68,131.27 200.95,131.27 201.22,131.27 201.49,138.74 201.77,131.27 202.04,131.27 202.31,131.27 202.58,131.27 202.85,131.27 203.12,138.33 203.39,131.27 203.67,131.27 203.94,131.27 204.21,131.27 204.48,131.27 204.75,131.27 205.02,131.27 205.29,131.27 205.57,138.59 205.84,138.57 206.11,138.42 206.38,131.27 206.65,138.81 206.92,131.27 207.19,138.49 207.47,138.60 207.74,131.27 208.01,138.70 208.28,138.74 208.55,138.39 208.82,138.27 209.10,138.59 209.37,131.27 209.64,131.27 209.91,131.27 210.18,131.27 210.45,138.55 210.72,138.60 211.00,131.27 211.27,131.27 211.54,146.33 211.81,138.53 212.08,138.21 212.35,138.54 212.62,131.27 212.90,138.36 213.17,138.74 213.44,138.86 213.71,131.27 213.98,131.27 214.25,131.27 214.53,131.27 214.80,131.27 215.07,131.27 215.34,138.69 215.61,138.39 215.88,138.77 216.15,138.63 216.43,131.27 216.70,131.27 216.97,131.27 217.24,138.33 217.51,138.30 217.78,138.72 218.06,131.27 218.33,131.27 218.60,131.27 218.87,131.27 219.14,131.27 219.41,131.27 219.68,131.27 219.96,131.27 220.23,131.27 220.50,131.27 220.77,131.27 221.04,131.27 221.31,131.27 221.58,131.27 221.86,131.27 222.13,131.27 222.40,131.27 222.67,131.27 222.94,131.27 223.21,131.27 223.49,131.27 223.76,131.27 224.03,138.53 224.30,131.27 224.57,131.27 224.84,131.27 225.11,131.27 225.39,131.27 225.66,131.27 225.93,131.27 226.20,131.27 226.47,131.27 226.74,131.27 227.01,131.27 227.29,138.53 227.56,131.27 227.83,131.27 228.10,131.27 228.37,131.27 228.64,131.27 228.92,131.27 229.19,131.27 229.46,131.27 229.73,131.27 230.00,131.27 230.27,131.27 230.54,131.27 230.82,131.27 231.09,131.27 231.36,131.27 231.63,131.27 231.90,131.27 232.17,131.27 232.44,131.27 232.72,131.27 232.99,131.27 233.26,131.27 233.53,131.27 233.80,131.27 234.07,131.27 234.35,131.27 234.62,131.27 234.89,131.27 235.16,138.53 235.43,131.27 235.70,131.27 235.97,131.27 236.25,131.27 236.52,131.27 236.79,131.27 237.06,131.27 237.33,131.27 237.60,131.27 237.87,131.27 238.15,131.27 238.42,131.27 238.69,131.27 238.96,131.27 239.23,131.27 239.50,131.27 239.78,131.27 240.05,131.27 240.32,131.27 240.59,131.27 240.86,131.27 241.13,131.27 241.40,131.27 241.68,131.27 241.95,131.27 242.22,131.27 242.49,131.27 242.76,131.27 243.03,131.27 243.30,131.27 243.58,131.27 243.85,131.27 244.12,131.27 244.39,131.27 244.66,131.27 244.93,131.27 245.21,131.27 245.48,131.27 245.75,131.27 246.02,131.27 246.29,131.27 246.56,131.27 246.83,131.27 247.11,131.27 247.38,131.27 247.65,131.27 247.92,131.27 248.19,131.27" fill="none" stroke="#e83a48" stroke-width="0.7" stroke-opacity="0.85" stroke-linejoin="round" clip-path="url(#cpf)"/>
<polyline points="171.90,203.93 172.17,196.67 172.44,189.40 172.71,182.13 172.99,178.50 173.26,174.87 173.53,171.23 173.80,163.97 174.07,167.60 174.34,156.70 174.62,160.33 174.89,149.43 175.16,153.07 175.43,142.17 175.70,171.23 175.97,131.27 176.24,138.20 176.52,160.33 176.79,131.27 177.06,153.07 177.33,131.27 177.60,131.27 177.87,131.27 178.14,156.70 178.42,131.27 178.69,138.55 178.96,131.27 179.23,131.27 179.50,131.27 179.77,131.27 180.05,145.80 180.32,131.27 180.59,131.27 180.86,131.27 181.13,131.27 181.40,131.27 181.67,131.27 181.95,131.27 182.22,138.51 182.49,144.01 182.76,131.27 183.03,138.41 183.30,138.57 183.57,131.27 183.85,160.33 184.12,138.78 184.39,138.83 184.66,131.27 184.93,138.64 185.20,131.27 185.47,131.27 185.75,131.27 186.02,143.63 186.29,138.54 186.56,138.63 186.83,138.83 187.10,131.27 187.38,131.27 187.65,138.36 187.92,138.36 188.19,138.34 188.46,131.27 188.73,146.85 189.00,138.35 189.28,131.27 189.55,131.27 189.82,138.77 190.09,131.27 190.36,138.65 190.63,138.77 190.91,154.52 191.18,138.27 191.45,131.27 191.72,131.27 191.99,138.59 192.26,138.22 192.53,138.87 192.81,131.27 193.08,131.27 193.35,138.86 193.62,131.27 193.89,131.27 194.16,131.27 194.43,138.40 194.71,131.27 194.98,131.27 195.25,131.27 195.52,131.27 195.79,131.27 196.06,138.41 196.34,131.27 196.61,131.27 196.88,145.80 197.15,131.27 197.42,131.27 197.69,138.57 197.96,138.19 198.24,131.27 198.51,145.63 198.78,138.59 199.05,131.27 199.32,138.88 199.59,138.48 199.86,131.27 200.14,138.33 200.41,138.74 200.68,138.69 200.95,138.50 201.22,131.27 201.49,138.47 201.77,138.17 202.04,131.27 202.31,131.27 202.58,131.27 202.85,131.27 203.12,131.27 203.39,131.27 203.67,138.55 203.94,131.27 204.21,131.27 204.48,131.27 204.75,131.27 205.02,138.64 205.29,145.43 205.57,131.27 205.84,138.64 206.11,131.27 206.38,138.35 206.65,131.27 206.92,131.27 207.19,131.27 207.47,131.27 207.74,131.27 208.01,131.27 208.28,131.27 208.55,131.27 208.82,131.27 209.10,131.27 209.37,131.27 209.64,138.52 209.91,138.66 210.18,131.27 210.45,131.27 210.72,138.54 211.00,138.48 211.27,138.22 211.54,131.27 211.81,131.27 212.08,131.27 212.35,131.27 212.62,131.27 212.90,131.27 213.17,138.69 213.44,138.49 213.71,138.53 213.98,131.27 214.25,138.18 214.53,131.27 214.80,131.27 215.07,131.27 215.34,145.80 215.61,131.27 215.88,131.27 216.15,131.27 216.43,131.27 216.70,131.27 216.97,131.27 217.24,131.27 217.51,131.27 217.78,131.27 218.06,131.27 218.33,131.27 218.60,131.27 218.87,131.27 219.14,131.27 219.41,131.27 219.68,131.27 219.96,131.27 220.23,131.27 220.50,131.27 220.77,131.27 221.04,131.27 221.31,131.27 221.58,131.27 221.86,131.27 222.13,131.27 222.40,131.27 222.67,131.27 222.94,131.27 223.21,131.27 223.49,131.27 223.76,131.27 224.03,131.27 224.30,131.27 224.57,131.27 224.84,131.27 225.11,131.27 225.39,131.27 225.66,131.27 225.93,131.27 226.20,131.27 226.47,131.27 226.74,131.27 227.01,131.27 227.29,131.27 227.56,131.27 227.83,131.27 228.10,131.27 228.37,131.27 228.64,131.27 228.92,131.27 229.19,131.27 229.46,131.27 229.73,131.27 230.00,131.27 230.27,131.27 230.54,131.27 230.82,131.27 231.09,131.27 231.36,131.27 231.63,131.27 231.90,131.27 232.17,131.27 232.44,131.27 232.72,131.27 232.99,131.27 233.26,131.27 233.53,131.27 233.80,131.27 234.07,131.27 234.35,131.27 234.62,131.27 234.89,131.27 235.16,131.27 235.43,131.27 235.70,131.27 235.97,131.27 236.25,131.27 236.52,131.27 236.79,131.27 237.06,131.27 237.33,131.27 237.60,131.27 237.87,131.27 238.15,131.27 238.42,131.27 238.69,131.27 238.96,131.27 239.23,131.27 239.50,131.27 239.78,131.27 240.05,131.27 240.32,131.27 240.59,131.27 240.86,131.27 241.13,131.27 241.40,131.27 241.68,131.27 241.95,131.27 242.22,131.27 242.49,131.27 242.76,131.27 243.03,131.27 243.30,131.27 243.58,131.27 243.85,131.27 244.12,131.27 244.39,131.27 244.66,131.27 244.93,131.27 245.21,131.27 245.48,131.27 245.75,138.53 246.02,131.27 246.29,131.27 246.56,131.27 246.83,131.27 247.11,131.27 247.38,131.27 247.65,131.27 247.92,131.27 248.19,131.27" fill="none" stroke="#2cc82c" stroke-width="0.7" stroke-opacity="0.72" stroke-linejoin="round" clip-path="url(#cpf)"/>
<rect x="158.40" y="124.00" width="107.90" height="87.20" fill="none" stroke="#6e6e6e" stroke-width="1.0"/>
<path d="M171.90 211.20v1.4M171.90 124.00v1.4M185.47 211.20v1.2M185.47 124.00v1.2M199.05 211.20v1.4M199.05 124.00v1.4M212.62 211.20v1.2M212.62 124.00v1.2M226.20 211.20v1.4M226.20 124.00v1.4M239.78 211.20v1.2M239.78 124.00v1.2M253.35 211.20v1.4M253.35 124.00v1.4M266.93 211.20v1.2M266.93 124.00v1.2M158.40 203.93h-1.4M266.30 203.93h-1.4M158.40 189.40h-1.4M266.30 189.40h-1.4M158.40 174.87h-1.4M266.30 174.87h-1.4M158.40 160.33h-1.4M266.30 160.33h-1.4M158.40 145.80h-1.4M266.30 145.80h-1.4M158.40 131.27h-1.4M266.30 131.27h-1.4M158.40 196.67h-1.2M266.30 196.67h-1.2M158.40 182.13h-1.2M266.30 182.13h-1.2M158.40 167.60h-1.2M266.30 167.60h-1.2M158.40 153.07h-1.2M266.30 153.07h-1.2M158.40 138.53h-1.2M266.30 138.53h-1.2" stroke="#6e6e6e" stroke-width="0.9" fill="none"/>
<text x="172.20" y="217.30" class="tk" text-anchor="middle">0</text>
<text x="199.35" y="217.30" class="tk" text-anchor="middle">100</text>
<text x="226.50" y="217.30" class="tk" text-anchor="middle">200</text>
<text x="253.65" y="217.30" class="tk" text-anchor="middle">300</text>
<text x="155.70" y="205.13" class="tk" text-anchor="end">0.0</text>
<text x="155.70" y="190.60" class="tk" text-anchor="end">0.2</text>
<text x="155.70" y="176.07" class="tk" text-anchor="end">0.4</text>
<text x="155.70" y="161.53" class="tk" text-anchor="end">0.6</text>
<text x="155.70" y="147.00" class="tk" text-anchor="end">0.8</text>
<text x="155.70" y="132.47" class="tk" text-anchor="end">1.0</text>
<text x="212.35" y="224.00" class="al" text-anchor="middle">Epoch</text>
<text transform="translate(148.80 167.60) rotate(-90)" class="al" text-anchor="middle">Recall</text>
<text x="209.40" y="236.20" class="sl" text-anchor="middle">(f)</text>
<rect x="215.70" y="152.00" width="43.60" height="12.30" fill="#fff" stroke="#c8c8c8" stroke-width="0.5"/>
<path d="M215.70 155.20h11" stroke="#f07878" stroke-width="0.7"/>
<path d="M215.70 160.70h11" stroke="#a8eaa8" stroke-width="1.5"/>
<text x="228.00" y="156.70" class="lg">Original dataset</text>
<text x="228.00" y="162.20" class="lg">Extended dataset</text>
<clipPath id="cpg"><rect x="297.10" y="124.10" width="108.20" height="87.10"/></clipPath>
<polyline points="310.60,203.94 310.87,196.68 311.14,200.31 311.41,182.17 311.69,193.05 311.96,171.28 312.23,189.42 312.50,160.39 312.77,182.17 313.04,153.13 313.31,178.54 313.59,145.88 313.86,171.28 314.13,138.62 314.40,167.65 314.67,134.99 314.94,160.39 315.22,134.99 315.49,132.45 315.76,195.96 316.03,132.45 316.30,135.15 316.57,132.45 316.84,167.65 317.12,132.45 317.39,132.45 317.66,132.45 317.93,174.91 318.20,132.45 318.47,135.80 318.75,132.45 319.02,160.39 319.29,132.45 319.56,132.45 319.83,136.46 320.10,132.45 320.37,132.45 320.65,164.02 320.92,136.52 321.19,133.60 321.46,132.45 321.73,132.45 322.00,134.56 322.27,132.45 322.55,132.45 322.82,145.88 323.09,132.45 323.36,132.45 323.63,132.45 323.90,136.17 324.18,132.45 324.45,134.28 324.72,132.45 324.99,135.86 325.26,132.45 325.53,132.45 325.80,135.33 326.08,132.45 326.35,134.56 326.62,132.45 326.89,132.45 327.16,132.45 327.43,132.45 327.70,132.45 327.98,132.45 328.25,132.45 328.52,133.64 328.79,136.19 329.06,132.45 329.33,132.45 329.61,132.45 329.88,132.45 330.15,132.45 330.42,134.13 330.69,132.45 330.96,136.45 331.23,132.45 331.51,132.45 331.78,132.45 332.05,135.47 332.32,132.45 332.59,132.45 332.86,132.45 333.13,132.45 333.41,132.45 333.68,132.45 333.95,132.45 334.22,132.45 334.49,132.45 334.76,132.45 335.04,132.45 335.31,145.88 335.58,132.45 335.85,132.45 336.12,132.45 336.39,132.45 336.66,132.45 336.94,132.45 337.21,132.45 337.48,132.45 337.75,132.45 338.02,132.45 338.29,132.45 338.56,132.45 338.84,132.45 339.11,132.45 339.38,132.45 339.65,132.45 339.92,136.60 340.19,132.45 340.47,136.78 340.74,134.38 341.01,134.15 341.28,132.45 341.55,132.45 341.82,132.45 342.09,134.23 342.37,132.45 342.64,132.45 342.91,132.45 343.18,132.45 343.45,132.45 343.72,132.45 343.99,132.45 344.27,132.45 344.54,132.45 344.81,132.45 345.08,132.45 345.35,132.45 345.62,132.45 345.90,134.69 346.17,132.45 346.44,132.45 346.71,132.45 346.98,136.28 347.25,132.45 347.52,132.45 347.80,132.45 348.07,136.15 348.34,134.61 348.61,132.45 348.88,134.27 349.15,132.45 349.42,132.45 349.70,132.45 349.97,132.45 350.24,132.45 350.51,132.45 350.78,132.45 351.05,132.45 351.33,132.45 351.60,132.45 351.87,136.75 352.14,132.45 352.41,132.45 352.68,132.45 352.95,132.45 353.23,132.45 353.50,134.51 353.77,132.45 354.04,132.45 354.31,132.45 354.58,132.45 354.85,132.45 355.13,132.45 355.40,132.45 355.67,133.36 355.94,132.45 356.21,132.45 356.48,132.45 356.75,132.45 357.03,132.45 357.30,132.45 357.57,132.45 357.84,132.45 358.11,132.45 358.38,132.45 358.66,132.45 358.93,132.45 359.20,132.45 359.47,134.05 359.74,132.45 360.01,132.45 360.28,132.45 360.56,132.45 360.83,132.45 361.10,132.45 361.37,132.45 361.64,132.45 361.91,132.45 362.19,132.45 362.46,132.45 362.73,132.45 363.00,132.45 363.27,132.45 363.54,135.87 363.81,132.45 364.09,132.45 364.36,132.45 364.63,132.45 364.90,132.45 365.17,132.45 365.44,136.54 365.71,132.45 365.99,132.45 366.26,132.45 366.53,132.45 366.80,132.45 367.07,132.45 367.34,132.45 367.62,132.45 367.89,132.45 368.16,132.45 368.43,132.45 368.70,132.45 368.97,132.45 369.24,132.45 369.52,132.45 369.79,136.55 370.06,132.45 370.33,132.45 370.60,132.45 370.87,132.45 371.14,132.45 371.42,132.45 371.69,132.45 371.96,132.45 372.23,132.45 372.50,132.45 372.77,132.45 373.05,132.45 373.32,132.45 373.59,132.45 373.86,132.45 374.13,134.44 374.40,132.45 374.67,132.45 374.95,132.45 375.22,132.45 375.49,132.45 375.76,132.45 376.03,132.45 376.30,132.45 376.57,132.45 376.85,132.45 377.12,132.45 377.39,132.45 377.66,132.45 377.93,132.45 378.20,132.45 378.48,132.45 378.75,132.45 379.02,132.45 379.29,132.45 379.56,132.45 379.83,132.45 380.10,132.45 380.38,132.45 380.65,132.45 380.92,132.45 381.19,132.45 381.46,132.45 381.73,132.45 382.00,132.45 382.28,132.45 382.55,132.45 382.82,132.45 383.09,132.45 383.36,132.45 383.63,132.45 383.91,132.45 384.18,132.45 384.45,132.45 384.72,132.45 384.99,132.45 385.26,132.45 385.53,132.45 385.81,132.45 386.08,132.45 386.35,132.45 386.62,132.45 386.89,132.45" fill="none" stroke="#e83a48" stroke-width="0.7" stroke-opacity="0.85" stroke-linejoin="round" clip-path="url(#cpg)"/>
<polyline points="310.60,203.94 310.87,200.31 311.14,189.42 311.41,196.68 311.69,178.54 311.96,193.05 312.23,167.65 312.50,185.80 312.77,160.39 313.04,182.17 313.31,153.13 313.59,174.91 313.86,145.88 314.13,178.54 314.40,138.62 314.67,167.65 314.94,134.99 315.22,174.91 315.49,138.62 315.76,132.45 316.03,132.45 316.30,132.45 316.57,182.17 316.84,132.45 317.12,132.45 317.39,132.45 317.66,132.45 317.93,132.45 318.20,160.39 318.47,134.16 318.75,132.45 319.02,132.45 319.29,132.45 319.56,132.45 319.83,133.44 320.10,199.59 320.37,132.45 320.65,132.45 320.92,132.45 321.19,132.45 321.46,167.65 321.73,134.83 322.00,132.45 322.27,132.45 322.55,132.45 322.82,132.45 323.09,134.72 323.36,149.50 323.63,132.45 323.90,132.45 324.18,132.45 324.45,132.45 324.72,132.45 324.99,132.45 325.26,132.45 325.53,132.45 325.80,134.15 326.08,133.72 326.35,134.90 326.62,132.45 326.89,134.32 327.16,139.96 327.43,132.45 327.70,132.45 327.98,132.45 328.25,132.45 328.52,132.45 328.79,133.37 329.06,132.45 329.33,135.33 329.61,133.30 329.88,132.45 330.15,132.45 330.42,132.45 330.69,132.45 330.96,132.45 331.23,132.45 331.51,132.45 331.78,132.45 332.05,132.45 332.32,132.45 332.59,132.45 332.86,132.45 333.13,132.45 333.41,132.45 333.68,135.23 333.95,132.45 334.22,132.45 334.49,136.70 334.76,133.68 335.04,148.78 335.31,132.45 335.58,132.45 335.85,132.45 336.12,132.45 336.39,132.45 336.66,135.85 336.94,135.53 337.21,132.45 337.48,132.45 337.75,132.45 338.02,135.45 338.29,133.92 338.56,132.45 338.84,132.45 339.11,132.45 339.38,132.45 339.65,137.16 339.92,135.36 340.19,133.80 340.47,132.45 340.74,132.45 341.01,132.45 341.28,132.45 341.55,132.45 341.82,132.45 342.09,132.45 342.37,136.04 342.64,132.45 342.91,132.45 343.18,132.45 343.45,138.32 343.72,132.45 343.99,132.45 344.27,132.45 344.54,132.45 344.81,135.23 345.08,132.45 345.35,132.45 345.62,132.45 345.90,132.45 346.17,132.45 346.44,132.45 346.71,132.45 346.98,132.45 347.25,132.45 347.52,135.96 347.80,132.45 348.07,132.45 348.34,132.45 348.61,132.45 348.88,132.45 349.15,134.86 349.42,132.45 349.70,132.45 349.97,132.45 350.24,132.45 350.51,132.45 350.78,135.97 351.05,132.45 351.33,132.45 351.60,132.45 351.87,132.45 352.14,132.45 352.41,136.38 352.68,132.45 352.95,132.45 353.23,132.45 353.50,132.45 353.77,132.45 354.04,132.45 354.31,132.45 354.58,132.45 354.85,132.45 355.13,135.85 355.40,132.45 355.67,132.45 355.94,135.99 356.21,132.45 356.48,132.45 356.75,132.45 357.03,132.45 357.30,132.45 357.57,132.45 357.84,132.45 358.11,133.70 358.38,132.45 358.66,132.45 358.93,132.45 359.20,132.45 359.47,132.45 359.74,132.45 360.01,132.45 360.28,132.45 360.56,132.45 360.83,132.45 361.10,132.45 361.37,132.45 361.64,132.45 361.91,132.45 362.19,132.45 362.46,132.45 362.73,132.45 363.00,132.45 363.27,132.45 363.54,132.45 363.81,132.45 364.09,132.45 364.36,132.45 364.63,132.45 364.90,132.45 365.17,132.45 365.44,132.45 365.71,132.45 365.99,132.45 366.26,133.42 366.53,132.45 366.80,132.45 367.07,132.45 367.34,132.45 367.62,132.45 367.89,132.45 368.16,132.45 368.43,132.45 368.70,132.45 368.97,132.45 369.24,132.45 369.52,132.45 369.79,132.45 370.06,132.45 370.33,132.45 370.60,132.45 370.87,132.45 371.14,132.45 371.42,132.45 371.69,132.45 371.96,132.45 372.23,132.45 372.50,140.07 372.77,132.45 373.05,132.45 373.32,132.45 373.59,132.45 373.86,132.45 374.13,132.45 374.40,132.45 374.67,132.45 374.95,132.45 375.22,132.45 375.49,133.90 375.76,132.45 376.03,132.45 376.30,134.18 376.57,132.45 376.85,132.45 377.12,136.41 377.39,132.45 377.66,132.45 377.93,135.87 378.20,132.45 378.48,132.45 378.75,132.45 379.02,132.45 379.29,132.45 379.56,132.45 379.83,132.45 380.10,132.45 380.38,132.45 380.65,132.45 380.92,132.45 381.19,132.45 381.46,132.45 381.73,132.45 382.00,132.45 382.28,132.45 382.55,132.45 382.82,132.45 383.09,132.45 383.36,132.45 383.63,132.45 383.91,132.45 384.18,132.45 384.45,132.45 384.72,132.45 384.99,132.45 385.26,132.45 385.53,134.68 385.81,132.45 386.08,132.45 386.35,132.45 386.62,132.45 386.89,132.45" fill="none" stroke="#2cc82c" stroke-width="0.7" stroke-opacity="0.72" stroke-linejoin="round" clip-path="url(#cpg)"/>
<rect x="297.10" y="124.10" width="108.20" height="87.10" fill="none" stroke="#6e6e6e" stroke-width="1.0"/>
<path d="M310.60 211.20v1.4M310.60 124.10v1.4M324.18 211.20v1.2M324.18 124.10v1.2M337.75 211.20v1.4M337.75 124.10v1.4M351.33 211.20v1.2M351.33 124.10v1.2M364.90 211.20v1.4M364.90 124.10v1.4M378.48 211.20v1.2M378.48 124.10v1.2M392.05 211.20v1.4M392.05 124.10v1.4M405.62 211.20v1.2M405.62 124.10v1.2M297.10 203.94h-1.4M405.30 203.94h-1.4M297.10 189.42h-1.4M405.30 189.42h-1.4M297.10 174.91h-1.4M405.30 174.91h-1.4M297.10 160.39h-1.4M405.30 160.39h-1.4M297.10 145.88h-1.4M405.30 145.88h-1.4M297.10 131.36h-1.4M405.30 131.36h-1.4M297.10 196.68h-1.2M405.30 196.68h-1.2M297.10 182.17h-1.2M405.30 182.17h-1.2M297.10 167.65h-1.2M405.30 167.65h-1.2M297.10 153.13h-1.2M405.30 153.13h-1.2M297.10 138.62h-1.2M405.30 138.62h-1.2" stroke="#6e6e6e" stroke-width="0.9" fill="none"/>
<text x="310.90" y="217.30" class="tk" text-anchor="middle">0</text>
<text x="338.05" y="217.30" class="tk" text-anchor="middle">100</text>
<text x="365.20" y="217.30" class="tk" text-anchor="middle">200</text>
<text x="392.35" y="217.30" class="tk" text-anchor="middle">300</text>
<text x="294.40" y="205.14" class="tk" text-anchor="end">0.0</text>
<text x="294.40" y="190.62" class="tk" text-anchor="end">0.2</text>
<text x="294.40" y="176.11" class="tk" text-anchor="end">0.4</text>
<text x="294.40" y="161.59" class="tk" text-anchor="end">0.6</text>
<text x="294.40" y="147.07" class="tk" text-anchor="end">0.8</text>
<text x="294.40" y="132.56" class="tk" text-anchor="end">1.0</text>
<text x="351.20" y="224.00" class="al" text-anchor="middle">Epoch</text>
<text transform="translate(287.20 167.65) rotate(-90)" class="al" text-anchor="middle">MAP-0.5</text>
<text x="348.80" y="236.20" class="sl" text-anchor="middle">(g)</text>
<rect x="354.70" y="152.10" width="43.60" height="12.30" fill="#fff" stroke="#c8c8c8" stroke-width="0.5"/>
<path d="M354.70 155.30h11" stroke="#f07878" stroke-width="0.7"/>
<path d="M354.70 160.80h11" stroke="#a8eaa8" stroke-width="1.5"/>
<text x="367.00" y="156.80" class="lg">Original dataset</text>
<text x="367.00" y="162.30" class="lg">Extended dataset</text>
<clipPath id="cph"><rect x="436.80" y="124.00" width="108.40" height="87.20"/></clipPath>
<polyline points="450.30,201.51 450.57,196.32 450.84,191.42 451.11,194.91 451.39,185.88 451.66,187.79 451.93,186.72 452.20,176.66 452.47,186.29 452.74,199.52 453.01,184.74 453.29,190.86 453.56,196.20 453.83,178.71 454.10,172.41 454.37,196.65 454.64,174.24 454.92,170.88 455.19,170.72 455.46,196.67 455.73,173.62 456.00,171.70 456.27,164.79 456.54,181.49 456.82,163.91 457.09,157.02 457.36,189.78 457.63,163.47 457.90,180.76 458.17,166.16 458.44,170.75 458.72,164.91 458.99,162.36 459.26,154.27 459.53,173.13 459.80,156.95 460.07,146.42 460.35,168.48 460.62,153.57 460.89,155.12 461.16,182.13 461.43,172.72 461.70,156.09 461.97,161.51 462.25,152.04 462.52,149.86 462.79,141.83 463.06,165.80 463.33,148.17 463.60,154.55 463.88,155.54 464.15,149.89 464.42,154.35 464.69,148.74 464.96,151.18 465.23,160.13 465.50,153.33 465.78,147.68 466.05,172.41 466.32,157.15 466.59,140.75 466.86,149.85 467.13,158.39 467.40,157.63 467.68,139.35 467.95,165.15 468.22,168.86 468.49,162.21 468.76,173.19 469.03,152.23 469.31,164.95 469.58,153.28 469.85,157.18 470.12,160.63 470.39,142.67 470.66,135.94 470.93,145.36 471.21,148.17 471.48,159.33 471.75,161.07 472.02,154.37 472.29,163.34 472.56,144.74 472.83,149.19 473.11,153.96 473.38,159.34 473.65,145.13 473.92,138.63 474.19,147.37 474.46,151.39 474.74,143.58 475.01,154.13 475.28,161.81 475.55,136.19 475.82,136.37 476.09,148.91 476.36,146.44 476.64,136.54 476.91,153.19 477.18,145.72 477.45,141.25 477.72,136.13 477.99,150.79 478.26,150.78 478.54,144.91 478.81,149.25 479.08,136.98 479.35,150.07 479.62,144.63 479.89,144.64 480.17,147.10 480.44,155.03 480.71,137.93 480.98,144.23 481.25,141.41 481.52,141.87 481.79,148.28 482.07,147.48 482.34,147.43 482.61,138.47 482.88,147.74 483.15,157.22 483.42,146.45 483.69,155.25 483.97,139.43 484.24,148.08 484.51,142.23 484.78,144.66 485.05,143.34 485.32,149.08 485.60,146.67 485.87,144.47 486.14,141.58 486.41,141.82 486.68,150.19 486.95,145.52 487.22,138.60 487.50,139.97 487.77,146.54 488.04,146.19 488.31,135.24 488.58,139.59 488.85,152.26 489.12,132.22 489.40,139.46 489.67,141.59 489.94,145.48 490.21,148.51 490.48,146.11 490.75,146.77 491.03,148.61 491.30,153.02 491.57,135.29 491.84,135.54 492.11,139.30 492.38,141.54 492.65,145.30 492.93,144.38 493.20,142.19 493.47,146.32 493.74,140.31 494.01,141.92 494.28,143.24 494.55,140.60 494.83,141.10 495.10,136.55 495.37,142.53 495.64,146.01 495.91,139.50 496.18,134.63 496.46,131.88 496.73,136.32 497.00,146.80 497.27,144.14 497.54,147.86 497.81,139.86 498.08,141.21 498.36,145.23 498.63,132.81 498.90,136.06 499.17,142.17 499.44,136.16 499.71,150.00 499.98,138.10 500.26,139.47 500.53,129.70 500.80,133.97 501.07,137.20 501.34,141.57 501.61,142.13 501.88,138.54 502.16,141.03 502.43,143.26 502.70,134.23 502.97,142.35 503.24,148.19 503.51,138.60 503.79,142.76 504.06,139.53 504.33,136.44 504.60,146.07 504.87,148.74 505.14,145.13 505.41,137.15 505.69,132.74 505.96,133.66 506.23,142.55 506.50,140.86 506.77,138.92 507.04,144.13 507.31,140.76 507.59,141.60 507.86,135.90 508.13,142.73 508.40,132.70 508.67,137.21 508.94,153.72 509.22,147.86 509.49,140.01 509.76,140.54 510.03,134.98 510.30,139.31 510.57,131.58 510.84,141.26 511.12,147.85 511.39,138.54 511.66,146.53 511.93,140.47 512.20,143.85 512.47,136.09 512.75,144.55 513.02,137.68 513.29,148.00 513.56,152.34 513.83,145.58 514.10,139.72 514.37,136.51 514.65,142.84 514.92,141.41 515.19,135.76 515.46,140.36 515.73,140.58 516.00,135.77 516.27,138.96 516.55,141.29 516.82,139.53 517.09,149.44 517.36,151.32 517.63,144.89 517.90,139.09 518.17,144.62 518.45,143.28 518.72,140.03 518.99,138.45 519.26,138.71 519.53,156.62 519.80,151.85 520.08,141.83 520.35,140.64 520.62,136.68 520.89,131.63 521.16,147.79 521.43,143.62 521.70,147.02 521.98,145.29 522.25,136.38 522.52,131.38 522.79,137.44 523.06,143.26 523.33,147.08 523.61,148.26 523.88,136.93 524.15,137.83 524.42,142.32 524.69,136.72 524.96,138.87 525.23,137.24 525.51,142.50 525.78,136.26 526.05,146.22 526.32,139.90 526.59,136.08" fill="none" stroke="#e83a48" stroke-width="0.7" stroke-opacity="0.85" stroke-linejoin="round" clip-path="url(#cph)"/>
<polyline points="450.30,201.51 450.57,197.90 450.84,195.29 451.11,194.12 451.39,189.08 451.66,183.45 451.93,186.65 452.20,193.24 452.47,180.70 452.74,186.54 453.01,171.51 453.29,183.46 453.56,172.35 453.83,189.63 454.10,160.49 454.37,200.87 454.64,181.03 454.92,170.88 455.19,150.13 455.46,173.10 455.73,169.31 456.00,193.31 456.27,160.88 456.54,172.57 456.82,161.80 457.09,150.39 457.36,184.37 457.63,170.18 457.90,153.56 458.17,150.93 458.44,160.82 458.72,174.56 458.99,172.36 459.26,171.35 459.53,160.86 459.80,198.60 460.07,160.51 460.35,160.37 460.62,157.80 460.89,184.90 461.16,160.50 461.43,181.71 461.70,168.93 461.97,151.71 462.25,154.20 462.52,145.63 462.79,174.98 463.06,168.78 463.33,168.57 463.60,150.74 463.88,177.56 464.15,164.55 464.42,177.29 464.69,172.83 464.96,166.21 465.23,136.85 465.50,145.49 465.78,151.57 466.05,158.66 466.32,159.01 466.59,158.59 466.86,130.37 467.13,149.21 467.40,146.60 467.68,156.97 467.95,152.13 468.22,147.66 468.49,155.49 468.76,150.82 469.03,152.94 469.31,182.13 469.58,156.92 469.85,146.42 470.12,151.13 470.39,143.05 470.66,159.04 470.93,167.60 471.21,147.44 471.48,147.48 471.75,141.06 472.02,147.92 472.29,159.40 472.56,139.02 472.83,141.33 473.11,150.57 473.38,137.04 473.65,150.87 473.92,161.11 474.19,141.34 474.46,148.56 474.74,159.86 475.01,148.41 475.28,147.02 475.55,137.57 475.82,166.80 476.09,155.44 476.36,139.29 476.64,145.47 476.91,140.66 477.18,146.92 477.45,146.40 477.72,146.15 477.99,146.88 478.26,150.76 478.54,158.23 478.81,152.02 479.08,153.55 479.35,162.89 479.62,144.90 479.89,163.32 480.17,153.41 480.44,160.03 480.71,144.99 480.98,149.98 481.25,157.14 481.52,141.50 481.79,153.71 482.07,132.49 482.34,152.21 482.61,142.02 482.88,147.64 483.15,140.64 483.42,144.01 483.69,153.87 483.97,158.83 484.24,151.16 484.51,147.47 484.78,148.79 485.05,147.57 485.32,145.84 485.60,151.13 485.87,139.85 486.14,157.01 486.41,150.70 486.68,155.40 486.95,141.54 487.22,148.07 487.50,143.86 487.77,150.12 488.04,142.58 488.31,142.65 488.58,142.98 488.85,137.74 489.12,138.36 489.40,147.44 489.67,154.88 489.94,151.96 490.21,139.81 490.48,146.83 490.75,140.67 491.03,153.31 491.30,141.96 491.57,146.02 491.84,145.61 492.11,147.05 492.38,151.49 492.65,140.01 492.93,135.89 493.20,140.67 493.47,137.15 493.74,138.75 494.01,146.76 494.28,148.26 494.55,138.57 494.83,137.07 495.10,129.71 495.37,139.20 495.64,144.54 495.91,142.00 496.18,135.40 496.46,142.68 496.73,140.96 497.00,159.06 497.27,149.84 497.54,127.97 497.81,143.68 498.08,143.43 498.36,144.81 498.63,140.81 498.90,145.34 499.17,146.98 499.44,154.79 499.71,144.11 499.98,135.53 500.26,140.57 500.53,141.60 500.80,140.63 501.07,135.70 501.34,137.44 501.61,140.15 501.88,157.23 502.16,148.19 502.43,150.26 502.70,141.14 502.97,132.36 503.24,144.15 503.51,139.23 503.79,143.64 504.06,143.81 504.33,143.45 504.60,143.16 504.87,142.94 505.14,150.24 505.41,146.31 505.69,144.27 505.96,137.19 506.23,140.69 506.50,160.01 506.77,138.02 507.04,140.33 507.31,158.13 507.59,137.95 507.86,154.47 508.13,144.12 508.40,136.65 508.67,149.46 508.94,144.79 509.22,136.55 509.49,144.67 509.76,143.03 510.03,142.00 510.30,149.32 510.57,150.00 510.84,151.55 511.12,135.52 511.39,143.86 511.66,151.17 511.93,145.17 512.20,140.20 512.47,145.69 512.75,139.96 513.02,149.20 513.29,144.75 513.56,156.77 513.83,147.40 514.10,151.16 514.37,137.43 514.65,142.79 514.92,141.50 515.19,144.82 515.46,150.37 515.73,149.70 516.00,148.23 516.27,148.58 516.55,148.40 516.82,137.67 517.09,151.03 517.36,149.80 517.63,151.97 517.90,143.46 518.17,149.01 518.45,151.42 518.72,137.39 518.99,145.93 519.26,144.67 519.53,142.14 519.80,143.28 520.08,146.89 520.35,146.79 520.62,145.46 520.89,145.79 521.16,150.84 521.43,144.55 521.70,149.38 521.98,142.21 522.25,138.89 522.52,143.57 522.79,147.59 523.06,144.48 523.33,147.58 523.61,160.22 523.88,156.23 524.15,149.84 524.42,149.62 524.69,142.12 524.96,150.13 525.23,150.02 525.51,151.27 525.78,152.62 526.05,146.47 526.32,137.36 526.59,150.57" fill="none" stroke="#2cc82c" stroke-width="0.7" stroke-opacity="0.72" stroke-linejoin="round" clip-path="url(#cph)"/>
<rect x="436.80" y="124.00" width="108.40" height="87.20" fill="none" stroke="#6e6e6e" stroke-width="1.0"/>
<path d="M450.30 211.20v1.4M450.30 124.00v1.4M463.88 211.20v1.2M463.88 124.00v1.2M477.45 211.20v1.4M477.45 124.00v1.4M491.03 211.20v1.2M491.03 124.00v1.2M504.60 211.20v1.4M504.60 124.00v1.4M518.17 211.20v1.2M518.17 124.00v1.2M531.75 211.20v1.4M531.75 124.00v1.4M545.33 211.20v1.2M545.33 124.00v1.2M436.80 201.51h-1.4M545.20 201.51h-1.4M436.80 182.13h-1.4M545.20 182.13h-1.4M436.80 162.76h-1.4M545.20 162.76h-1.4M436.80 143.38h-1.4M545.20 143.38h-1.4M436.80 124.00h-1.4M545.20 124.00h-1.4M436.80 191.82h-1.2M545.20 191.82h-1.2M436.80 172.44h-1.2M545.20 172.44h-1.2M436.80 153.07h-1.2M545.20 153.07h-1.2M436.80 133.69h-1.2M545.20 133.69h-1.2" stroke="#6e6e6e" stroke-width="0.9" fill="none"/>
<text x="450.60" y="217.30" class="tk" text-anchor="middle">0</text>
<text x="477.75" y="217.30" class="tk" text-anchor="middle">100</text>
<text x="504.90" y="217.30" class="tk" text-anchor="middle">200</text>
<text x="532.05" y="217.30" class="tk" text-anchor="middle">300</text>
<text x="434.10" y="202.71" class="tk" text-anchor="end">0.0</text>
<text x="434.10" y="183.33" class="tk" text-anchor="end">0.2</text>
<text x="434.10" y="163.96" class="tk" text-anchor="end">0.4</text>
<text x="434.10" y="144.58" class="tk" text-anchor="end">0.6</text>
<text x="434.10" y="125.20" class="tk" text-anchor="end">0.8</text>
<text x="491.00" y="224.00" class="al" text-anchor="middle">Epoch</text>
<text transform="translate(427.60 167.60) rotate(-90)" class="al" text-anchor="middle">MAP-0.5:0.95</text>
<text x="488.60" y="236.20" class="sl" text-anchor="middle">(h)</text>
<rect x="492.70" y="160.00" width="43.60" height="12.30" fill="#fff" stroke="#c8c8c8" stroke-width="0.5"/>
<path d="M492.70 163.20h11" stroke="#f07878" stroke-width="0.7"/>
<path d="M492.70 168.70h11" stroke="#a8eaa8" stroke-width="1.5"/>
<text x="505.00" y="164.70" class="lg">Original dataset</text>
<text x="505.00" y="170.20" class="lg">Extended dataset</text>
</g>
</svg>
</body></html>
